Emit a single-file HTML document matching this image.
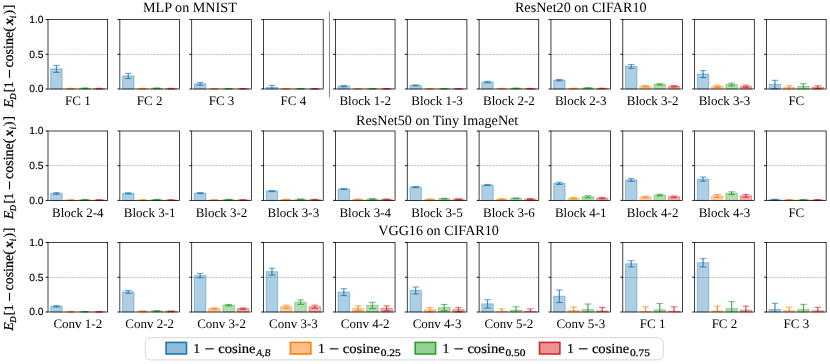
<!DOCTYPE html><html><head><meta charset="utf-8"><style>html,body{margin:0;padding:0;background:#fff;overflow:hidden}svg{display:block;will-change:transform;text-rendering:geometricPrecision}</style></head><body>
<svg width="830" height="364" viewBox="0 0 830 364">
<rect width="830" height="364" fill="#fff"/>
<line x1="48" y1="54.5" x2="107.65" y2="54.5" stroke="#c2c2c2" stroke-width="1" stroke-dasharray="2.3,1.05"/>
<rect x="50.71" y="68.87" width="11.42" height="20.13" fill="rgba(31,119,180,0.36)" stroke="rgba(31,119,180,0.4)" stroke-width="1"/>
<g stroke="rgba(31,119,180,0.8)"><line x1="56.42" y1="65.4" x2="56.42" y2="72.34" stroke-width="1.3"/><line x1="53.12" y1="65.4" x2="59.72" y2="65.4" stroke-width="1.1" stroke-opacity="0.8"/><line x1="53.12" y1="72.34" x2="59.72" y2="72.34" stroke-width="1.1"/></g>
<rect x="64.98" y="88.58" width="11.42" height="0.42" fill="rgba(255,127,14,0.36)" stroke="rgba(255,127,14,0.4)" stroke-width="1"/>
<g stroke="rgba(255,127,14,0.8)"><line x1="70.69" y1="88.31" x2="70.69" y2="88.86" stroke-width="1.3"/><line x1="67.39" y1="88.31" x2="73.99" y2="88.31" stroke-width="1.1" stroke-opacity="0.8"/><line x1="67.39" y1="88.86" x2="73.99" y2="88.86" stroke-width="1.1"/></g>
<rect x="79.25" y="88.31" width="11.42" height="0.69" fill="rgba(44,160,44,0.36)" stroke="rgba(44,160,44,0.4)" stroke-width="1"/>
<g stroke="rgba(44,160,44,0.8)"><line x1="84.96" y1="87.96" x2="84.96" y2="88.65" stroke-width="1.3"/><line x1="81.66" y1="87.96" x2="88.26" y2="87.96" stroke-width="1.1" stroke-opacity="0.8"/><line x1="81.66" y1="88.65" x2="88.26" y2="88.65" stroke-width="1.1"/></g>
<rect x="93.52" y="88.58" width="11.42" height="0.42" fill="rgba(214,39,40,0.36)" stroke="rgba(214,39,40,0.4)" stroke-width="1"/>
<g stroke="rgba(214,39,40,0.8)"><line x1="99.23" y1="88.31" x2="99.23" y2="88.86" stroke-width="1.3"/><line x1="95.93" y1="88.31" x2="102.53" y2="88.31" stroke-width="1.1" stroke-opacity="0.8"/><line x1="95.93" y1="88.86" x2="102.53" y2="88.86" stroke-width="1.1"/></g>
<rect x="48" y="19.6" width="59.65" height="69.4" fill="none" stroke="#000" stroke-width="0.75"/>
<line x1="45.6" y1="89" x2="48" y2="89" stroke="#000" stroke-width="0.9"/>
<line x1="45.6" y1="54.3" x2="48" y2="54.3" stroke="#000" stroke-width="0.9"/>
<line x1="45.6" y1="19.6" x2="48" y2="19.6" stroke="#000" stroke-width="0.9"/>
<text x="77.83" y="104.8" text-anchor="middle" font-family="Liberation Serif" font-size="13" textLength="25.65" lengthAdjust="spacingAndGlyphs">FC 1</text>
<line x1="119.85" y1="54.5" x2="179.5" y2="54.5" stroke="#c2c2c2" stroke-width="1" stroke-dasharray="2.3,1.05"/>
<rect x="122.56" y="75.95" width="11.42" height="13.05" fill="rgba(31,119,180,0.36)" stroke="rgba(31,119,180,0.4)" stroke-width="1"/>
<g stroke="rgba(31,119,180,0.8)"><line x1="128.27" y1="73.38" x2="128.27" y2="78.52" stroke-width="1.3"/><line x1="124.97" y1="73.38" x2="131.57" y2="73.38" stroke-width="1.1" stroke-opacity="0.8"/><line x1="124.97" y1="78.52" x2="131.57" y2="78.52" stroke-width="1.1"/></g>
<rect x="136.83" y="88.58" width="11.42" height="0.42" fill="rgba(255,127,14,0.36)" stroke="rgba(255,127,14,0.4)" stroke-width="1"/>
<g stroke="rgba(255,127,14,0.8)"><line x1="142.54" y1="88.31" x2="142.54" y2="88.86" stroke-width="1.3"/><line x1="139.24" y1="88.31" x2="145.84" y2="88.31" stroke-width="1.1" stroke-opacity="0.8"/><line x1="139.24" y1="88.86" x2="145.84" y2="88.86" stroke-width="1.1"/></g>
<rect x="151.1" y="88.31" width="11.42" height="0.69" fill="rgba(44,160,44,0.36)" stroke="rgba(44,160,44,0.4)" stroke-width="1"/>
<g stroke="rgba(44,160,44,0.8)"><line x1="156.81" y1="87.96" x2="156.81" y2="88.65" stroke-width="1.3"/><line x1="153.51" y1="87.96" x2="160.11" y2="87.96" stroke-width="1.1" stroke-opacity="0.8"/><line x1="153.51" y1="88.65" x2="160.11" y2="88.65" stroke-width="1.1"/></g>
<rect x="165.37" y="88.58" width="11.42" height="0.42" fill="rgba(214,39,40,0.36)" stroke="rgba(214,39,40,0.4)" stroke-width="1"/>
<g stroke="rgba(214,39,40,0.8)"><line x1="171.08" y1="88.31" x2="171.08" y2="88.86" stroke-width="1.3"/><line x1="167.78" y1="88.31" x2="174.38" y2="88.31" stroke-width="1.1" stroke-opacity="0.8"/><line x1="167.78" y1="88.86" x2="174.38" y2="88.86" stroke-width="1.1"/></g>
<rect x="119.85" y="19.6" width="59.65" height="69.4" fill="none" stroke="#000" stroke-width="0.75"/>
<line x1="117.45" y1="89" x2="119.85" y2="89" stroke="#000" stroke-width="0.9"/>
<line x1="117.45" y1="54.3" x2="119.85" y2="54.3" stroke="#000" stroke-width="0.9"/>
<line x1="117.45" y1="19.6" x2="119.85" y2="19.6" stroke="#000" stroke-width="0.9"/>
<text x="149.67" y="104.8" text-anchor="middle" font-family="Liberation Serif" font-size="13" textLength="25.65" lengthAdjust="spacingAndGlyphs">FC 2</text>
<line x1="191.7" y1="54.5" x2="251.35" y2="54.5" stroke="#c2c2c2" stroke-width="1" stroke-dasharray="2.3,1.05"/>
<rect x="194.41" y="83.8" width="11.42" height="5.21" fill="rgba(31,119,180,0.36)" stroke="rgba(31,119,180,0.4)" stroke-width="1"/>
<g stroke="rgba(31,119,180,0.8)"><line x1="200.12" y1="82.41" x2="200.12" y2="85.18" stroke-width="1.3"/><line x1="196.82" y1="82.41" x2="203.42" y2="82.41" stroke-width="1.1" stroke-opacity="0.8"/><line x1="196.82" y1="85.18" x2="203.42" y2="85.18" stroke-width="1.1"/></g>
<rect x="208.68" y="88.72" width="11.42" height="0.28" fill="rgba(255,127,14,0.36)" stroke="rgba(255,127,14,0.4)" stroke-width="1"/>
<g stroke="rgba(255,127,14,0.8)"><line x1="214.39" y1="88.58" x2="214.39" y2="88.86" stroke-width="1.3"/><line x1="211.09" y1="88.58" x2="217.69" y2="88.58" stroke-width="1.1" stroke-opacity="0.8"/><line x1="211.09" y1="88.86" x2="217.69" y2="88.86" stroke-width="1.1"/></g>
<rect x="222.95" y="88.65" width="11.42" height="0.35" fill="rgba(44,160,44,0.36)" stroke="rgba(44,160,44,0.4)" stroke-width="1"/>
<g stroke="rgba(44,160,44,0.8)"><line x1="228.66" y1="88.51" x2="228.66" y2="88.79" stroke-width="1.3"/><line x1="225.36" y1="88.51" x2="231.96" y2="88.51" stroke-width="1.1" stroke-opacity="0.8"/><line x1="225.36" y1="88.79" x2="231.96" y2="88.79" stroke-width="1.1"/></g>
<rect x="237.22" y="88.72" width="11.42" height="0.28" fill="rgba(214,39,40,0.36)" stroke="rgba(214,39,40,0.4)" stroke-width="1"/>
<g stroke="rgba(214,39,40,0.8)"><line x1="242.93" y1="88.58" x2="242.93" y2="88.86" stroke-width="1.3"/><line x1="239.63" y1="88.58" x2="246.23" y2="88.58" stroke-width="1.1" stroke-opacity="0.8"/><line x1="239.63" y1="88.86" x2="246.23" y2="88.86" stroke-width="1.1"/></g>
<rect x="191.7" y="19.6" width="59.65" height="69.4" fill="none" stroke="#000" stroke-width="0.75"/>
<line x1="189.3" y1="89" x2="191.7" y2="89" stroke="#000" stroke-width="0.9"/>
<line x1="189.3" y1="54.3" x2="191.7" y2="54.3" stroke="#000" stroke-width="0.9"/>
<line x1="189.3" y1="19.6" x2="191.7" y2="19.6" stroke="#000" stroke-width="0.9"/>
<text x="221.52" y="104.8" text-anchor="middle" font-family="Liberation Serif" font-size="13" textLength="25.65" lengthAdjust="spacingAndGlyphs">FC 3</text>
<line x1="263.55" y1="54.5" x2="323.2" y2="54.5" stroke="#c2c2c2" stroke-width="1" stroke-dasharray="2.3,1.05"/>
<rect x="266.26" y="87.47" width="11.42" height="1.53" fill="rgba(31,119,180,0.36)" stroke="rgba(31,119,180,0.4)" stroke-width="1"/>
<g stroke="rgba(31,119,180,0.8)"><line x1="271.97" y1="85.39" x2="271.97" y2="89" stroke-width="1.3"/><line x1="268.67" y1="85.39" x2="275.27" y2="85.39" stroke-width="1.1" stroke-opacity="0.8"/></g>
<rect x="280.53" y="88.72" width="11.42" height="0.28" fill="rgba(255,127,14,0.36)" stroke="rgba(255,127,14,0.4)" stroke-width="1"/>
<g stroke="rgba(255,127,14,0.8)"><line x1="286.24" y1="88.58" x2="286.24" y2="88.86" stroke-width="1.3"/><line x1="282.94" y1="88.58" x2="289.54" y2="88.58" stroke-width="1.1" stroke-opacity="0.8"/><line x1="282.94" y1="88.86" x2="289.54" y2="88.86" stroke-width="1.1"/></g>
<rect x="294.8" y="88.65" width="11.42" height="0.35" fill="rgba(44,160,44,0.36)" stroke="rgba(44,160,44,0.4)" stroke-width="1"/>
<g stroke="rgba(44,160,44,0.8)"><line x1="300.51" y1="88.51" x2="300.51" y2="88.79" stroke-width="1.3"/><line x1="297.21" y1="88.51" x2="303.81" y2="88.51" stroke-width="1.1" stroke-opacity="0.8"/><line x1="297.21" y1="88.79" x2="303.81" y2="88.79" stroke-width="1.1"/></g>
<rect x="309.07" y="88.72" width="11.42" height="0.28" fill="rgba(214,39,40,0.36)" stroke="rgba(214,39,40,0.4)" stroke-width="1"/>
<g stroke="rgba(214,39,40,0.8)"><line x1="314.78" y1="88.58" x2="314.78" y2="88.86" stroke-width="1.3"/><line x1="311.48" y1="88.58" x2="318.08" y2="88.58" stroke-width="1.1" stroke-opacity="0.8"/><line x1="311.48" y1="88.86" x2="318.08" y2="88.86" stroke-width="1.1"/></g>
<rect x="263.55" y="19.6" width="59.65" height="69.4" fill="none" stroke="#000" stroke-width="0.75"/>
<line x1="261.15" y1="89" x2="263.55" y2="89" stroke="#000" stroke-width="0.9"/>
<line x1="261.15" y1="54.3" x2="263.55" y2="54.3" stroke="#000" stroke-width="0.9"/>
<line x1="261.15" y1="19.6" x2="263.55" y2="19.6" stroke="#000" stroke-width="0.9"/>
<text x="293.37" y="104.8" text-anchor="middle" font-family="Liberation Serif" font-size="13" textLength="25.65" lengthAdjust="spacingAndGlyphs">FC 4</text>
<line x1="335.4" y1="54.5" x2="395.05" y2="54.5" stroke="#c2c2c2" stroke-width="1" stroke-dasharray="2.3,1.05"/>
<rect x="338.11" y="86.09" width="11.42" height="2.91" fill="rgba(31,119,180,0.36)" stroke="rgba(31,119,180,0.4)" stroke-width="1"/>
<g stroke="rgba(31,119,180,0.8)"><line x1="343.82" y1="85.39" x2="343.82" y2="86.78" stroke-width="1.3"/><line x1="340.52" y1="85.39" x2="347.12" y2="85.39" stroke-width="1.1" stroke-opacity="0.8"/><line x1="340.52" y1="86.78" x2="347.12" y2="86.78" stroke-width="1.1"/></g>
<rect x="352.38" y="88.72" width="11.42" height="0.28" fill="rgba(255,127,14,0.36)" stroke="rgba(255,127,14,0.4)" stroke-width="1"/>
<g stroke="rgba(255,127,14,0.8)"><line x1="358.09" y1="88.58" x2="358.09" y2="88.86" stroke-width="1.3"/><line x1="354.79" y1="88.58" x2="361.39" y2="88.58" stroke-width="1.1" stroke-opacity="0.8"/><line x1="354.79" y1="88.86" x2="361.39" y2="88.86" stroke-width="1.1"/></g>
<rect x="366.65" y="88.65" width="11.42" height="0.35" fill="rgba(44,160,44,0.36)" stroke="rgba(44,160,44,0.4)" stroke-width="1"/>
<g stroke="rgba(44,160,44,0.8)"><line x1="372.36" y1="88.51" x2="372.36" y2="88.79" stroke-width="1.3"/><line x1="369.06" y1="88.51" x2="375.66" y2="88.51" stroke-width="1.1" stroke-opacity="0.8"/><line x1="369.06" y1="88.79" x2="375.66" y2="88.79" stroke-width="1.1"/></g>
<rect x="380.92" y="88.72" width="11.42" height="0.28" fill="rgba(214,39,40,0.36)" stroke="rgba(214,39,40,0.4)" stroke-width="1"/>
<g stroke="rgba(214,39,40,0.8)"><line x1="386.63" y1="88.58" x2="386.63" y2="88.86" stroke-width="1.3"/><line x1="383.33" y1="88.58" x2="389.93" y2="88.58" stroke-width="1.1" stroke-opacity="0.8"/><line x1="383.33" y1="88.86" x2="389.93" y2="88.86" stroke-width="1.1"/></g>
<rect x="335.4" y="19.6" width="59.65" height="69.4" fill="none" stroke="#000" stroke-width="0.75"/>
<line x1="333" y1="89" x2="335.4" y2="89" stroke="#000" stroke-width="0.9"/>
<line x1="333" y1="54.3" x2="335.4" y2="54.3" stroke="#000" stroke-width="0.9"/>
<line x1="333" y1="19.6" x2="335.4" y2="19.6" stroke="#000" stroke-width="0.9"/>
<text x="365.22" y="104.8" text-anchor="middle" font-family="Liberation Serif" font-size="13" textLength="51.63" lengthAdjust="spacingAndGlyphs">Block 1-2</text>
<line x1="407.25" y1="54.5" x2="466.9" y2="54.5" stroke="#c2c2c2" stroke-width="1" stroke-dasharray="2.3,1.05"/>
<rect x="409.96" y="85.39" width="11.42" height="3.61" fill="rgba(31,119,180,0.36)" stroke="rgba(31,119,180,0.4)" stroke-width="1"/>
<g stroke="rgba(31,119,180,0.8)"><line x1="415.67" y1="84.97" x2="415.67" y2="85.81" stroke-width="1.3"/><line x1="412.37" y1="84.97" x2="418.97" y2="84.97" stroke-width="1.1" stroke-opacity="0.8"/><line x1="412.37" y1="85.81" x2="418.97" y2="85.81" stroke-width="1.1"/></g>
<rect x="424.23" y="88.72" width="11.42" height="0.28" fill="rgba(255,127,14,0.36)" stroke="rgba(255,127,14,0.4)" stroke-width="1"/>
<g stroke="rgba(255,127,14,0.8)"><line x1="429.94" y1="88.58" x2="429.94" y2="88.86" stroke-width="1.3"/><line x1="426.64" y1="88.58" x2="433.24" y2="88.58" stroke-width="1.1" stroke-opacity="0.8"/><line x1="426.64" y1="88.86" x2="433.24" y2="88.86" stroke-width="1.1"/></g>
<rect x="438.5" y="88.65" width="11.42" height="0.35" fill="rgba(44,160,44,0.36)" stroke="rgba(44,160,44,0.4)" stroke-width="1"/>
<g stroke="rgba(44,160,44,0.8)"><line x1="444.21" y1="88.51" x2="444.21" y2="88.79" stroke-width="1.3"/><line x1="440.91" y1="88.51" x2="447.51" y2="88.51" stroke-width="1.1" stroke-opacity="0.8"/><line x1="440.91" y1="88.79" x2="447.51" y2="88.79" stroke-width="1.1"/></g>
<rect x="452.77" y="88.72" width="11.42" height="0.28" fill="rgba(214,39,40,0.36)" stroke="rgba(214,39,40,0.4)" stroke-width="1"/>
<g stroke="rgba(214,39,40,0.8)"><line x1="458.48" y1="88.58" x2="458.48" y2="88.86" stroke-width="1.3"/><line x1="455.18" y1="88.58" x2="461.78" y2="88.58" stroke-width="1.1" stroke-opacity="0.8"/><line x1="455.18" y1="88.86" x2="461.78" y2="88.86" stroke-width="1.1"/></g>
<rect x="407.25" y="19.6" width="59.65" height="69.4" fill="none" stroke="#000" stroke-width="0.75"/>
<line x1="404.85" y1="89" x2="407.25" y2="89" stroke="#000" stroke-width="0.9"/>
<line x1="404.85" y1="54.3" x2="407.25" y2="54.3" stroke="#000" stroke-width="0.9"/>
<line x1="404.85" y1="19.6" x2="407.25" y2="19.6" stroke="#000" stroke-width="0.9"/>
<text x="437.07" y="104.8" text-anchor="middle" font-family="Liberation Serif" font-size="13" textLength="51.63" lengthAdjust="spacingAndGlyphs">Block 1-3</text>
<line x1="479.1" y1="54.5" x2="538.75" y2="54.5" stroke="#c2c2c2" stroke-width="1" stroke-dasharray="2.3,1.05"/>
<rect x="481.81" y="82.06" width="11.42" height="6.94" fill="rgba(31,119,180,0.36)" stroke="rgba(31,119,180,0.4)" stroke-width="1"/>
<g stroke="rgba(31,119,180,0.8)"><line x1="487.52" y1="81.37" x2="487.52" y2="82.75" stroke-width="1.3"/><line x1="484.22" y1="81.37" x2="490.82" y2="81.37" stroke-width="1.1" stroke-opacity="0.8"/><line x1="484.22" y1="82.75" x2="490.82" y2="82.75" stroke-width="1.1"/></g>
<rect x="496.08" y="88.58" width="11.42" height="0.42" fill="rgba(255,127,14,0.36)" stroke="rgba(255,127,14,0.4)" stroke-width="1"/>
<g stroke="rgba(255,127,14,0.8)"><line x1="501.79" y1="88.38" x2="501.79" y2="88.79" stroke-width="1.3"/><line x1="498.49" y1="88.38" x2="505.09" y2="88.38" stroke-width="1.1" stroke-opacity="0.8"/><line x1="498.49" y1="88.79" x2="505.09" y2="88.79" stroke-width="1.1"/></g>
<rect x="510.35" y="88.31" width="11.42" height="0.69" fill="rgba(44,160,44,0.36)" stroke="rgba(44,160,44,0.4)" stroke-width="1"/>
<g stroke="rgba(44,160,44,0.8)"><line x1="516.06" y1="88.03" x2="516.06" y2="88.58" stroke-width="1.3"/><line x1="512.76" y1="88.03" x2="519.36" y2="88.03" stroke-width="1.1" stroke-opacity="0.8"/><line x1="512.76" y1="88.58" x2="519.36" y2="88.58" stroke-width="1.1"/></g>
<rect x="524.62" y="88.58" width="11.42" height="0.42" fill="rgba(214,39,40,0.36)" stroke="rgba(214,39,40,0.4)" stroke-width="1"/>
<g stroke="rgba(214,39,40,0.8)"><line x1="530.33" y1="88.38" x2="530.33" y2="88.79" stroke-width="1.3"/><line x1="527.03" y1="88.38" x2="533.63" y2="88.38" stroke-width="1.1" stroke-opacity="0.8"/><line x1="527.03" y1="88.79" x2="533.63" y2="88.79" stroke-width="1.1"/></g>
<rect x="479.1" y="19.6" width="59.65" height="69.4" fill="none" stroke="#000" stroke-width="0.75"/>
<line x1="476.7" y1="89" x2="479.1" y2="89" stroke="#000" stroke-width="0.9"/>
<line x1="476.7" y1="54.3" x2="479.1" y2="54.3" stroke="#000" stroke-width="0.9"/>
<line x1="476.7" y1="19.6" x2="479.1" y2="19.6" stroke="#000" stroke-width="0.9"/>
<text x="508.92" y="104.8" text-anchor="middle" font-family="Liberation Serif" font-size="13" textLength="51.63" lengthAdjust="spacingAndGlyphs">Block 2-2</text>
<line x1="550.95" y1="54.5" x2="610.6" y2="54.5" stroke="#c2c2c2" stroke-width="1" stroke-dasharray="2.3,1.05"/>
<rect x="553.66" y="80.19" width="11.42" height="8.81" fill="rgba(31,119,180,0.36)" stroke="rgba(31,119,180,0.4)" stroke-width="1"/>
<g stroke="rgba(31,119,180,0.8)"><line x1="559.37" y1="79.49" x2="559.37" y2="80.88" stroke-width="1.3"/><line x1="556.07" y1="79.49" x2="562.67" y2="79.49" stroke-width="1.1" stroke-opacity="0.8"/><line x1="556.07" y1="80.88" x2="562.67" y2="80.88" stroke-width="1.1"/></g>
<rect x="567.93" y="88.44" width="11.42" height="0.56" fill="rgba(255,127,14,0.36)" stroke="rgba(255,127,14,0.4)" stroke-width="1"/>
<g stroke="rgba(255,127,14,0.8)"><line x1="573.64" y1="88.24" x2="573.64" y2="88.65" stroke-width="1.3"/><line x1="570.34" y1="88.24" x2="576.94" y2="88.24" stroke-width="1.1" stroke-opacity="0.8"/><line x1="570.34" y1="88.65" x2="576.94" y2="88.65" stroke-width="1.1"/></g>
<rect x="582.2" y="88.03" width="11.42" height="0.97" fill="rgba(44,160,44,0.36)" stroke="rgba(44,160,44,0.4)" stroke-width="1"/>
<g stroke="rgba(44,160,44,0.8)"><line x1="587.91" y1="87.75" x2="587.91" y2="88.31" stroke-width="1.3"/><line x1="584.61" y1="87.75" x2="591.21" y2="87.75" stroke-width="1.1" stroke-opacity="0.8"/><line x1="584.61" y1="88.31" x2="591.21" y2="88.31" stroke-width="1.1"/></g>
<rect x="596.47" y="88.44" width="11.42" height="0.56" fill="rgba(214,39,40,0.36)" stroke="rgba(214,39,40,0.4)" stroke-width="1"/>
<g stroke="rgba(214,39,40,0.8)"><line x1="602.18" y1="88.24" x2="602.18" y2="88.65" stroke-width="1.3"/><line x1="598.88" y1="88.24" x2="605.48" y2="88.24" stroke-width="1.1" stroke-opacity="0.8"/><line x1="598.88" y1="88.65" x2="605.48" y2="88.65" stroke-width="1.1"/></g>
<rect x="550.95" y="19.6" width="59.65" height="69.4" fill="none" stroke="#000" stroke-width="0.75"/>
<line x1="548.55" y1="89" x2="550.95" y2="89" stroke="#000" stroke-width="0.9"/>
<line x1="548.55" y1="54.3" x2="550.95" y2="54.3" stroke="#000" stroke-width="0.9"/>
<line x1="548.55" y1="19.6" x2="550.95" y2="19.6" stroke="#000" stroke-width="0.9"/>
<text x="580.77" y="104.8" text-anchor="middle" font-family="Liberation Serif" font-size="13" textLength="51.63" lengthAdjust="spacingAndGlyphs">Block 2-3</text>
<line x1="622.8" y1="54.5" x2="682.45" y2="54.5" stroke="#c2c2c2" stroke-width="1" stroke-dasharray="2.3,1.05"/>
<rect x="625.51" y="66.44" width="11.42" height="22.56" fill="rgba(31,119,180,0.36)" stroke="rgba(31,119,180,0.4)" stroke-width="1"/>
<g stroke="rgba(31,119,180,0.8)"><line x1="631.22" y1="64.5" x2="631.22" y2="68.39" stroke-width="1.3"/><line x1="627.92" y1="64.5" x2="634.52" y2="64.5" stroke-width="1.1" stroke-opacity="0.8"/><line x1="627.92" y1="68.39" x2="634.52" y2="68.39" stroke-width="1.1"/></g>
<rect x="639.78" y="86.29" width="11.42" height="2.71" fill="rgba(255,127,14,0.36)" stroke="rgba(255,127,14,0.4)" stroke-width="1"/>
<g stroke="rgba(255,127,14,0.8)"><line x1="645.49" y1="85.6" x2="645.49" y2="86.99" stroke-width="1.3"/><line x1="642.19" y1="85.6" x2="648.79" y2="85.6" stroke-width="1.1" stroke-opacity="0.8"/><line x1="642.19" y1="86.99" x2="648.79" y2="86.99" stroke-width="1.1"/></g>
<rect x="654.05" y="84.42" width="11.42" height="4.58" fill="rgba(44,160,44,0.36)" stroke="rgba(44,160,44,0.4)" stroke-width="1"/>
<g stroke="rgba(44,160,44,0.8)"><line x1="659.76" y1="83.73" x2="659.76" y2="85.11" stroke-width="1.3"/><line x1="656.46" y1="83.73" x2="663.06" y2="83.73" stroke-width="1.1" stroke-opacity="0.8"/><line x1="656.46" y1="85.11" x2="663.06" y2="85.11" stroke-width="1.1"/></g>
<rect x="668.32" y="86.29" width="11.42" height="2.71" fill="rgba(214,39,40,0.36)" stroke="rgba(214,39,40,0.4)" stroke-width="1"/>
<g stroke="rgba(214,39,40,0.8)"><line x1="674.03" y1="85.6" x2="674.03" y2="86.99" stroke-width="1.3"/><line x1="670.73" y1="85.6" x2="677.33" y2="85.6" stroke-width="1.1" stroke-opacity="0.8"/><line x1="670.73" y1="86.99" x2="677.33" y2="86.99" stroke-width="1.1"/></g>
<rect x="622.8" y="19.6" width="59.65" height="69.4" fill="none" stroke="#000" stroke-width="0.75"/>
<line x1="620.4" y1="89" x2="622.8" y2="89" stroke="#000" stroke-width="0.9"/>
<line x1="620.4" y1="54.3" x2="622.8" y2="54.3" stroke="#000" stroke-width="0.9"/>
<line x1="620.4" y1="19.6" x2="622.8" y2="19.6" stroke="#000" stroke-width="0.9"/>
<text x="652.62" y="104.8" text-anchor="middle" font-family="Liberation Serif" font-size="13" textLength="51.63" lengthAdjust="spacingAndGlyphs">Block 3-2</text>
<line x1="694.65" y1="54.5" x2="754.3" y2="54.5" stroke="#c2c2c2" stroke-width="1" stroke-dasharray="2.3,1.05"/>
<rect x="697.36" y="74.08" width="11.42" height="14.92" fill="rgba(31,119,180,0.36)" stroke="rgba(31,119,180,0.4)" stroke-width="1"/>
<g stroke="rgba(31,119,180,0.8)"><line x1="703.07" y1="70.61" x2="703.07" y2="77.55" stroke-width="1.3"/><line x1="699.77" y1="70.61" x2="706.37" y2="70.61" stroke-width="1.1" stroke-opacity="0.8"/><line x1="699.77" y1="77.55" x2="706.37" y2="77.55" stroke-width="1.1"/></g>
<rect x="711.63" y="86.29" width="11.42" height="2.71" fill="rgba(255,127,14,0.36)" stroke="rgba(255,127,14,0.4)" stroke-width="1"/>
<g stroke="rgba(255,127,14,0.8)"><line x1="717.34" y1="85.18" x2="717.34" y2="87.4" stroke-width="1.3"/><line x1="714.04" y1="85.18" x2="720.64" y2="85.18" stroke-width="1.1" stroke-opacity="0.8"/><line x1="714.04" y1="87.4" x2="720.64" y2="87.4" stroke-width="1.1"/></g>
<rect x="725.9" y="84.49" width="11.42" height="4.51" fill="rgba(44,160,44,0.36)" stroke="rgba(44,160,44,0.4)" stroke-width="1"/>
<g stroke="rgba(44,160,44,0.8)"><line x1="731.61" y1="83.1" x2="731.61" y2="85.88" stroke-width="1.3"/><line x1="728.31" y1="83.1" x2="734.91" y2="83.1" stroke-width="1.1" stroke-opacity="0.8"/><line x1="728.31" y1="85.88" x2="734.91" y2="85.88" stroke-width="1.1"/></g>
<rect x="740.17" y="86.29" width="11.42" height="2.71" fill="rgba(214,39,40,0.36)" stroke="rgba(214,39,40,0.4)" stroke-width="1"/>
<g stroke="rgba(214,39,40,0.8)"><line x1="745.88" y1="85.18" x2="745.88" y2="87.4" stroke-width="1.3"/><line x1="742.58" y1="85.18" x2="749.18" y2="85.18" stroke-width="1.1" stroke-opacity="0.8"/><line x1="742.58" y1="87.4" x2="749.18" y2="87.4" stroke-width="1.1"/></g>
<rect x="694.65" y="19.6" width="59.65" height="69.4" fill="none" stroke="#000" stroke-width="0.75"/>
<line x1="692.25" y1="89" x2="694.65" y2="89" stroke="#000" stroke-width="0.9"/>
<line x1="692.25" y1="54.3" x2="694.65" y2="54.3" stroke="#000" stroke-width="0.9"/>
<line x1="692.25" y1="19.6" x2="694.65" y2="19.6" stroke="#000" stroke-width="0.9"/>
<text x="724.48" y="104.8" text-anchor="middle" font-family="Liberation Serif" font-size="13" textLength="51.63" lengthAdjust="spacingAndGlyphs">Block 3-3</text>
<line x1="766.5" y1="54.5" x2="826.15" y2="54.5" stroke="#c2c2c2" stroke-width="1" stroke-dasharray="2.3,1.05"/>
<rect x="769.21" y="84.49" width="11.42" height="4.51" fill="rgba(31,119,180,0.36)" stroke="rgba(31,119,180,0.4)" stroke-width="1"/>
<g stroke="rgba(31,119,180,0.8)"><line x1="774.92" y1="80.33" x2="774.92" y2="88.65" stroke-width="1.3"/><line x1="771.62" y1="80.33" x2="778.22" y2="80.33" stroke-width="1.1" stroke-opacity="0.8"/><line x1="771.62" y1="88.65" x2="778.22" y2="88.65" stroke-width="1.1"/></g>
<rect x="783.48" y="87.47" width="11.42" height="1.53" fill="rgba(255,127,14,0.36)" stroke="rgba(255,127,14,0.4)" stroke-width="1"/>
<g stroke="rgba(255,127,14,0.8)"><line x1="789.19" y1="85.74" x2="789.19" y2="89" stroke-width="1.3"/><line x1="785.89" y1="85.74" x2="792.49" y2="85.74" stroke-width="1.1" stroke-opacity="0.8"/></g>
<rect x="797.75" y="86.43" width="11.42" height="2.57" fill="rgba(44,160,44,0.36)" stroke="rgba(44,160,44,0.4)" stroke-width="1"/>
<g stroke="rgba(44,160,44,0.8)"><line x1="803.46" y1="83.66" x2="803.46" y2="89" stroke-width="1.3"/><line x1="800.16" y1="83.66" x2="806.76" y2="83.66" stroke-width="1.1" stroke-opacity="0.8"/></g>
<rect x="812.02" y="87.2" width="11.42" height="1.8" fill="rgba(214,39,40,0.36)" stroke="rgba(214,39,40,0.4)" stroke-width="1"/>
<g stroke="rgba(214,39,40,0.8)"><line x1="817.73" y1="85.81" x2="817.73" y2="88.58" stroke-width="1.3"/><line x1="814.43" y1="85.81" x2="821.03" y2="85.81" stroke-width="1.1" stroke-opacity="0.8"/><line x1="814.43" y1="88.58" x2="821.03" y2="88.58" stroke-width="1.1"/></g>
<rect x="766.5" y="19.6" width="59.65" height="69.4" fill="none" stroke="#000" stroke-width="0.75"/>
<line x1="764.1" y1="89" x2="766.5" y2="89" stroke="#000" stroke-width="0.9"/>
<line x1="764.1" y1="54.3" x2="766.5" y2="54.3" stroke="#000" stroke-width="0.9"/>
<line x1="764.1" y1="19.6" x2="766.5" y2="19.6" stroke="#000" stroke-width="0.9"/>
<text x="796.33" y="104.8" text-anchor="middle" font-family="Liberation Serif" font-size="13" textLength="15.9" lengthAdjust="spacingAndGlyphs">FC</text>
<text x="43.6" y="92.3" text-anchor="end" font-family="Liberation Sans" font-size="10.3" stroke="#000" stroke-width="0.15">0.0</text>
<text x="43.6" y="57.6" text-anchor="end" font-family="Liberation Sans" font-size="10.3" stroke="#000" stroke-width="0.15">0.5</text>
<text x="43.6" y="22.9" text-anchor="end" font-family="Liberation Sans" font-size="10.3" stroke="#000" stroke-width="0.15">1.0</text>
<text transform="translate(12.9,107.2) rotate(-90)" font-family="Liberation Serif" font-size="13" stroke="#000" stroke-width="0.25"><tspan x="-0.3" y="0" font-style="italic" font-size="13.5">E</tspan><tspan x="7.4" y="3" font-style="italic" font-size="8.8">D</tspan><tspan x="15" y="0">[</tspan><tspan x="19.2" y="0">1</tspan><tspan x="39.6" y="0" font-size="14">cosine(</tspan><tspan x="82.2" y="0" font-weight="bold" font-style="italic" font-size="13.5">x</tspan><tspan x="89" y="2.6" font-style="italic" font-size="9.5">i</tspan><tspan x="92.6" y="0" font-size="13.5">)</tspan><tspan x="98" y="0" font-size="13.5">]</tspan></text>
<rect x="8.95" y="70" width="1.1" height="7.8" fill="#000"/>
<line x1="48" y1="165.5" x2="107.65" y2="165.5" stroke="#c2c2c2" stroke-width="1" stroke-dasharray="2.3,1.05"/>
<rect x="50.71" y="193.46" width="11.42" height="6.94" fill="rgba(31,119,180,0.36)" stroke="rgba(31,119,180,0.4)" stroke-width="1"/>
<g stroke="rgba(31,119,180,0.8)"><line x1="56.42" y1="192.56" x2="56.42" y2="194.36" stroke-width="1.3"/><line x1="53.12" y1="192.56" x2="59.72" y2="192.56" stroke-width="1.1" stroke-opacity="0.8"/><line x1="53.12" y1="194.36" x2="59.72" y2="194.36" stroke-width="1.1"/></g>
<rect x="64.98" y="200.05" width="11.42" height="0.35" fill="rgba(255,127,14,0.36)" stroke="rgba(255,127,14,0.4)" stroke-width="1"/>
<g stroke="rgba(255,127,14,0.8)"><line x1="70.69" y1="199.91" x2="70.69" y2="200.19" stroke-width="1.3"/><line x1="67.39" y1="199.91" x2="73.99" y2="199.91" stroke-width="1.1" stroke-opacity="0.8"/><line x1="67.39" y1="200.19" x2="73.99" y2="200.19" stroke-width="1.1"/></g>
<rect x="79.25" y="199.71" width="11.42" height="0.69" fill="rgba(44,160,44,0.36)" stroke="rgba(44,160,44,0.4)" stroke-width="1"/>
<g stroke="rgba(44,160,44,0.8)"><line x1="84.96" y1="199.5" x2="84.96" y2="199.91" stroke-width="1.3"/><line x1="81.66" y1="199.5" x2="88.26" y2="199.5" stroke-width="1.1" stroke-opacity="0.8"/><line x1="81.66" y1="199.91" x2="88.26" y2="199.91" stroke-width="1.1"/></g>
<rect x="93.52" y="199.98" width="11.42" height="0.42" fill="rgba(214,39,40,0.36)" stroke="rgba(214,39,40,0.4)" stroke-width="1"/>
<g stroke="rgba(214,39,40,0.8)"><line x1="99.23" y1="199.84" x2="99.23" y2="200.12" stroke-width="1.3"/><line x1="95.93" y1="199.84" x2="102.53" y2="199.84" stroke-width="1.1" stroke-opacity="0.8"/><line x1="95.93" y1="200.12" x2="102.53" y2="200.12" stroke-width="1.1"/></g>
<rect x="48" y="131" width="59.65" height="69.4" fill="none" stroke="#000" stroke-width="0.75"/>
<line x1="45.6" y1="200.4" x2="48" y2="200.4" stroke="#000" stroke-width="0.9"/>
<line x1="45.6" y1="165.7" x2="48" y2="165.7" stroke="#000" stroke-width="0.9"/>
<line x1="45.6" y1="131" x2="48" y2="131" stroke="#000" stroke-width="0.9"/>
<text x="77.83" y="216.5" text-anchor="middle" font-family="Liberation Serif" font-size="13" textLength="51.63" lengthAdjust="spacingAndGlyphs">Block 2-4</text>
<line x1="119.85" y1="165.5" x2="179.5" y2="165.5" stroke="#c2c2c2" stroke-width="1" stroke-dasharray="2.3,1.05"/>
<rect x="122.56" y="193.39" width="11.42" height="7.01" fill="rgba(31,119,180,0.36)" stroke="rgba(31,119,180,0.4)" stroke-width="1"/>
<g stroke="rgba(31,119,180,0.8)"><line x1="128.27" y1="192.7" x2="128.27" y2="194.08" stroke-width="1.3"/><line x1="124.97" y1="192.7" x2="131.57" y2="192.7" stroke-width="1.1" stroke-opacity="0.8"/><line x1="124.97" y1="194.08" x2="131.57" y2="194.08" stroke-width="1.1"/></g>
<rect x="136.83" y="200.05" width="11.42" height="0.35" fill="rgba(255,127,14,0.36)" stroke="rgba(255,127,14,0.4)" stroke-width="1"/>
<g stroke="rgba(255,127,14,0.8)"><line x1="142.54" y1="199.91" x2="142.54" y2="200.19" stroke-width="1.3"/><line x1="139.24" y1="199.91" x2="145.84" y2="199.91" stroke-width="1.1" stroke-opacity="0.8"/><line x1="139.24" y1="200.19" x2="145.84" y2="200.19" stroke-width="1.1"/></g>
<rect x="151.1" y="199.57" width="11.42" height="0.83" fill="rgba(44,160,44,0.36)" stroke="rgba(44,160,44,0.4)" stroke-width="1"/>
<g stroke="rgba(44,160,44,0.8)"><line x1="156.81" y1="199.36" x2="156.81" y2="199.78" stroke-width="1.3"/><line x1="153.51" y1="199.36" x2="160.11" y2="199.36" stroke-width="1.1" stroke-opacity="0.8"/><line x1="153.51" y1="199.78" x2="160.11" y2="199.78" stroke-width="1.1"/></g>
<rect x="165.37" y="199.98" width="11.42" height="0.42" fill="rgba(214,39,40,0.36)" stroke="rgba(214,39,40,0.4)" stroke-width="1"/>
<g stroke="rgba(214,39,40,0.8)"><line x1="171.08" y1="199.84" x2="171.08" y2="200.12" stroke-width="1.3"/><line x1="167.78" y1="199.84" x2="174.38" y2="199.84" stroke-width="1.1" stroke-opacity="0.8"/><line x1="167.78" y1="200.12" x2="174.38" y2="200.12" stroke-width="1.1"/></g>
<rect x="119.85" y="131" width="59.65" height="69.4" fill="none" stroke="#000" stroke-width="0.75"/>
<line x1="117.45" y1="200.4" x2="119.85" y2="200.4" stroke="#000" stroke-width="0.9"/>
<line x1="117.45" y1="165.7" x2="119.85" y2="165.7" stroke="#000" stroke-width="0.9"/>
<line x1="117.45" y1="131" x2="119.85" y2="131" stroke="#000" stroke-width="0.9"/>
<text x="149.67" y="216.5" text-anchor="middle" font-family="Liberation Serif" font-size="13" textLength="51.63" lengthAdjust="spacingAndGlyphs">Block 3-1</text>
<line x1="191.7" y1="165.5" x2="251.35" y2="165.5" stroke="#c2c2c2" stroke-width="1" stroke-dasharray="2.3,1.05"/>
<rect x="194.41" y="193.11" width="11.42" height="7.29" fill="rgba(31,119,180,0.36)" stroke="rgba(31,119,180,0.4)" stroke-width="1"/>
<g stroke="rgba(31,119,180,0.8)"><line x1="200.12" y1="192.56" x2="200.12" y2="193.67" stroke-width="1.3"/><line x1="196.82" y1="192.56" x2="203.42" y2="192.56" stroke-width="1.1" stroke-opacity="0.8"/><line x1="196.82" y1="193.67" x2="203.42" y2="193.67" stroke-width="1.1"/></g>
<rect x="208.68" y="199.98" width="11.42" height="0.42" fill="rgba(255,127,14,0.36)" stroke="rgba(255,127,14,0.4)" stroke-width="1"/>
<g stroke="rgba(255,127,14,0.8)"><line x1="214.39" y1="199.84" x2="214.39" y2="200.12" stroke-width="1.3"/><line x1="211.09" y1="199.84" x2="217.69" y2="199.84" stroke-width="1.1" stroke-opacity="0.8"/><line x1="211.09" y1="200.12" x2="217.69" y2="200.12" stroke-width="1.1"/></g>
<rect x="222.95" y="199.5" width="11.42" height="0.9" fill="rgba(44,160,44,0.36)" stroke="rgba(44,160,44,0.4)" stroke-width="1"/>
<g stroke="rgba(44,160,44,0.8)"><line x1="228.66" y1="199.29" x2="228.66" y2="199.71" stroke-width="1.3"/><line x1="225.36" y1="199.29" x2="231.96" y2="199.29" stroke-width="1.1" stroke-opacity="0.8"/><line x1="225.36" y1="199.71" x2="231.96" y2="199.71" stroke-width="1.1"/></g>
<rect x="237.22" y="199.91" width="11.42" height="0.49" fill="rgba(214,39,40,0.36)" stroke="rgba(214,39,40,0.4)" stroke-width="1"/>
<g stroke="rgba(214,39,40,0.8)"><line x1="242.93" y1="199.78" x2="242.93" y2="200.05" stroke-width="1.3"/><line x1="239.63" y1="199.78" x2="246.23" y2="199.78" stroke-width="1.1" stroke-opacity="0.8"/><line x1="239.63" y1="200.05" x2="246.23" y2="200.05" stroke-width="1.1"/></g>
<rect x="191.7" y="131" width="59.65" height="69.4" fill="none" stroke="#000" stroke-width="0.75"/>
<line x1="189.3" y1="200.4" x2="191.7" y2="200.4" stroke="#000" stroke-width="0.9"/>
<line x1="189.3" y1="165.7" x2="191.7" y2="165.7" stroke="#000" stroke-width="0.9"/>
<line x1="189.3" y1="131" x2="191.7" y2="131" stroke="#000" stroke-width="0.9"/>
<text x="221.52" y="216.5" text-anchor="middle" font-family="Liberation Serif" font-size="13" textLength="51.63" lengthAdjust="spacingAndGlyphs">Block 3-2</text>
<line x1="263.55" y1="165.5" x2="323.2" y2="165.5" stroke="#c2c2c2" stroke-width="1" stroke-dasharray="2.3,1.05"/>
<rect x="266.26" y="191.03" width="11.42" height="9.37" fill="rgba(31,119,180,0.36)" stroke="rgba(31,119,180,0.4)" stroke-width="1"/>
<g stroke="rgba(31,119,180,0.8)"><line x1="271.97" y1="190.48" x2="271.97" y2="191.59" stroke-width="1.3"/><line x1="268.67" y1="190.48" x2="275.27" y2="190.48" stroke-width="1.1" stroke-opacity="0.8"/><line x1="268.67" y1="191.59" x2="275.27" y2="191.59" stroke-width="1.1"/></g>
<rect x="280.53" y="199.57" width="11.42" height="0.83" fill="rgba(255,127,14,0.36)" stroke="rgba(255,127,14,0.4)" stroke-width="1"/>
<g stroke="rgba(255,127,14,0.8)"><line x1="286.24" y1="199.29" x2="286.24" y2="199.84" stroke-width="1.3"/><line x1="282.94" y1="199.29" x2="289.54" y2="199.29" stroke-width="1.1" stroke-opacity="0.8"/><line x1="282.94" y1="199.84" x2="289.54" y2="199.84" stroke-width="1.1"/></g>
<rect x="294.8" y="199.29" width="11.42" height="1.11" fill="rgba(44,160,44,0.36)" stroke="rgba(44,160,44,0.4)" stroke-width="1"/>
<g stroke="rgba(44,160,44,0.8)"><line x1="300.51" y1="199.01" x2="300.51" y2="199.57" stroke-width="1.3"/><line x1="297.21" y1="199.01" x2="303.81" y2="199.01" stroke-width="1.1" stroke-opacity="0.8"/><line x1="297.21" y1="199.57" x2="303.81" y2="199.57" stroke-width="1.1"/></g>
<rect x="309.07" y="199.57" width="11.42" height="0.83" fill="rgba(214,39,40,0.36)" stroke="rgba(214,39,40,0.4)" stroke-width="1"/>
<g stroke="rgba(214,39,40,0.8)"><line x1="314.78" y1="199.29" x2="314.78" y2="199.84" stroke-width="1.3"/><line x1="311.48" y1="199.29" x2="318.08" y2="199.29" stroke-width="1.1" stroke-opacity="0.8"/><line x1="311.48" y1="199.84" x2="318.08" y2="199.84" stroke-width="1.1"/></g>
<rect x="263.55" y="131" width="59.65" height="69.4" fill="none" stroke="#000" stroke-width="0.75"/>
<line x1="261.15" y1="200.4" x2="263.55" y2="200.4" stroke="#000" stroke-width="0.9"/>
<line x1="261.15" y1="165.7" x2="263.55" y2="165.7" stroke="#000" stroke-width="0.9"/>
<line x1="261.15" y1="131" x2="263.55" y2="131" stroke="#000" stroke-width="0.9"/>
<text x="293.37" y="216.5" text-anchor="middle" font-family="Liberation Serif" font-size="13" textLength="51.63" lengthAdjust="spacingAndGlyphs">Block 3-3</text>
<line x1="335.4" y1="165.5" x2="395.05" y2="165.5" stroke="#c2c2c2" stroke-width="1" stroke-dasharray="2.3,1.05"/>
<rect x="338.11" y="189.02" width="11.42" height="11.38" fill="rgba(31,119,180,0.36)" stroke="rgba(31,119,180,0.4)" stroke-width="1"/>
<g stroke="rgba(31,119,180,0.8)"><line x1="343.82" y1="188.46" x2="343.82" y2="189.57" stroke-width="1.3"/><line x1="340.52" y1="188.46" x2="347.12" y2="188.46" stroke-width="1.1" stroke-opacity="0.8"/><line x1="340.52" y1="189.57" x2="347.12" y2="189.57" stroke-width="1.1"/></g>
<rect x="352.38" y="199.36" width="11.42" height="1.04" fill="rgba(255,127,14,0.36)" stroke="rgba(255,127,14,0.4)" stroke-width="1"/>
<g stroke="rgba(255,127,14,0.8)"><line x1="358.09" y1="199.01" x2="358.09" y2="199.71" stroke-width="1.3"/><line x1="354.79" y1="199.01" x2="361.39" y2="199.01" stroke-width="1.1" stroke-opacity="0.8"/><line x1="354.79" y1="199.71" x2="361.39" y2="199.71" stroke-width="1.1"/></g>
<rect x="366.65" y="199.01" width="11.42" height="1.39" fill="rgba(44,160,44,0.36)" stroke="rgba(44,160,44,0.4)" stroke-width="1"/>
<g stroke="rgba(44,160,44,0.8)"><line x1="372.36" y1="198.66" x2="372.36" y2="199.36" stroke-width="1.3"/><line x1="369.06" y1="198.66" x2="375.66" y2="198.66" stroke-width="1.1" stroke-opacity="0.8"/><line x1="369.06" y1="199.36" x2="375.66" y2="199.36" stroke-width="1.1"/></g>
<rect x="380.92" y="199.36" width="11.42" height="1.04" fill="rgba(214,39,40,0.36)" stroke="rgba(214,39,40,0.4)" stroke-width="1"/>
<g stroke="rgba(214,39,40,0.8)"><line x1="386.63" y1="199.01" x2="386.63" y2="199.71" stroke-width="1.3"/><line x1="383.33" y1="199.01" x2="389.93" y2="199.01" stroke-width="1.1" stroke-opacity="0.8"/><line x1="383.33" y1="199.71" x2="389.93" y2="199.71" stroke-width="1.1"/></g>
<rect x="335.4" y="131" width="59.65" height="69.4" fill="none" stroke="#000" stroke-width="0.75"/>
<line x1="333" y1="200.4" x2="335.4" y2="200.4" stroke="#000" stroke-width="0.9"/>
<line x1="333" y1="165.7" x2="335.4" y2="165.7" stroke="#000" stroke-width="0.9"/>
<line x1="333" y1="131" x2="335.4" y2="131" stroke="#000" stroke-width="0.9"/>
<text x="365.22" y="216.5" text-anchor="middle" font-family="Liberation Serif" font-size="13" textLength="51.63" lengthAdjust="spacingAndGlyphs">Block 3-4</text>
<line x1="407.25" y1="165.5" x2="466.9" y2="165.5" stroke="#c2c2c2" stroke-width="1" stroke-dasharray="2.3,1.05"/>
<rect x="409.96" y="187.01" width="11.42" height="13.39" fill="rgba(31,119,180,0.36)" stroke="rgba(31,119,180,0.4)" stroke-width="1"/>
<g stroke="rgba(31,119,180,0.8)"><line x1="415.67" y1="186.45" x2="415.67" y2="187.56" stroke-width="1.3"/><line x1="412.37" y1="186.45" x2="418.97" y2="186.45" stroke-width="1.1" stroke-opacity="0.8"/><line x1="412.37" y1="187.56" x2="418.97" y2="187.56" stroke-width="1.1"/></g>
<rect x="424.23" y="199.36" width="11.42" height="1.04" fill="rgba(255,127,14,0.36)" stroke="rgba(255,127,14,0.4)" stroke-width="1"/>
<g stroke="rgba(255,127,14,0.8)"><line x1="429.94" y1="198.94" x2="429.94" y2="199.78" stroke-width="1.3"/><line x1="426.64" y1="198.94" x2="433.24" y2="198.94" stroke-width="1.1" stroke-opacity="0.8"/><line x1="426.64" y1="199.78" x2="433.24" y2="199.78" stroke-width="1.1"/></g>
<rect x="438.5" y="198.66" width="11.42" height="1.74" fill="rgba(44,160,44,0.36)" stroke="rgba(44,160,44,0.4)" stroke-width="1"/>
<g stroke="rgba(44,160,44,0.8)"><line x1="444.21" y1="198.25" x2="444.21" y2="199.08" stroke-width="1.3"/><line x1="440.91" y1="198.25" x2="447.51" y2="198.25" stroke-width="1.1" stroke-opacity="0.8"/><line x1="440.91" y1="199.08" x2="447.51" y2="199.08" stroke-width="1.1"/></g>
<rect x="452.77" y="199.15" width="11.42" height="1.25" fill="rgba(214,39,40,0.36)" stroke="rgba(214,39,40,0.4)" stroke-width="1"/>
<g stroke="rgba(214,39,40,0.8)"><line x1="458.48" y1="198.73" x2="458.48" y2="199.57" stroke-width="1.3"/><line x1="455.18" y1="198.73" x2="461.78" y2="198.73" stroke-width="1.1" stroke-opacity="0.8"/><line x1="455.18" y1="199.57" x2="461.78" y2="199.57" stroke-width="1.1"/></g>
<rect x="407.25" y="131" width="59.65" height="69.4" fill="none" stroke="#000" stroke-width="0.75"/>
<line x1="404.85" y1="200.4" x2="407.25" y2="200.4" stroke="#000" stroke-width="0.9"/>
<line x1="404.85" y1="165.7" x2="407.25" y2="165.7" stroke="#000" stroke-width="0.9"/>
<line x1="404.85" y1="131" x2="407.25" y2="131" stroke="#000" stroke-width="0.9"/>
<text x="437.07" y="216.5" text-anchor="middle" font-family="Liberation Serif" font-size="13" textLength="51.63" lengthAdjust="spacingAndGlyphs">Block 3-5</text>
<line x1="479.1" y1="165.5" x2="538.75" y2="165.5" stroke="#c2c2c2" stroke-width="1" stroke-dasharray="2.3,1.05"/>
<rect x="481.81" y="184.99" width="11.42" height="15.41" fill="rgba(31,119,180,0.36)" stroke="rgba(31,119,180,0.4)" stroke-width="1"/>
<g stroke="rgba(31,119,180,0.8)"><line x1="487.52" y1="184.44" x2="487.52" y2="185.55" stroke-width="1.3"/><line x1="484.22" y1="184.44" x2="490.82" y2="184.44" stroke-width="1.1" stroke-opacity="0.8"/><line x1="484.22" y1="185.55" x2="490.82" y2="185.55" stroke-width="1.1"/></g>
<rect x="496.08" y="199.15" width="11.42" height="1.25" fill="rgba(255,127,14,0.36)" stroke="rgba(255,127,14,0.4)" stroke-width="1"/>
<g stroke="rgba(255,127,14,0.8)"><line x1="501.79" y1="198.73" x2="501.79" y2="199.57" stroke-width="1.3"/><line x1="498.49" y1="198.73" x2="505.09" y2="198.73" stroke-width="1.1" stroke-opacity="0.8"/><line x1="498.49" y1="199.57" x2="505.09" y2="199.57" stroke-width="1.1"/></g>
<rect x="510.35" y="198.32" width="11.42" height="2.08" fill="rgba(44,160,44,0.36)" stroke="rgba(44,160,44,0.4)" stroke-width="1"/>
<g stroke="rgba(44,160,44,0.8)"><line x1="516.06" y1="197.9" x2="516.06" y2="198.73" stroke-width="1.3"/><line x1="512.76" y1="197.9" x2="519.36" y2="197.9" stroke-width="1.1" stroke-opacity="0.8"/><line x1="512.76" y1="198.73" x2="519.36" y2="198.73" stroke-width="1.1"/></g>
<rect x="524.62" y="199.01" width="11.42" height="1.39" fill="rgba(214,39,40,0.36)" stroke="rgba(214,39,40,0.4)" stroke-width="1"/>
<g stroke="rgba(214,39,40,0.8)"><line x1="530.33" y1="198.6" x2="530.33" y2="199.43" stroke-width="1.3"/><line x1="527.03" y1="198.6" x2="533.63" y2="198.6" stroke-width="1.1" stroke-opacity="0.8"/><line x1="527.03" y1="199.43" x2="533.63" y2="199.43" stroke-width="1.1"/></g>
<rect x="479.1" y="131" width="59.65" height="69.4" fill="none" stroke="#000" stroke-width="0.75"/>
<line x1="476.7" y1="200.4" x2="479.1" y2="200.4" stroke="#000" stroke-width="0.9"/>
<line x1="476.7" y1="165.7" x2="479.1" y2="165.7" stroke="#000" stroke-width="0.9"/>
<line x1="476.7" y1="131" x2="479.1" y2="131" stroke="#000" stroke-width="0.9"/>
<text x="508.92" y="216.5" text-anchor="middle" font-family="Liberation Serif" font-size="13" textLength="51.63" lengthAdjust="spacingAndGlyphs">Block 3-6</text>
<line x1="550.95" y1="165.5" x2="610.6" y2="165.5" stroke="#c2c2c2" stroke-width="1" stroke-dasharray="2.3,1.05"/>
<rect x="553.66" y="183.4" width="11.42" height="17" fill="rgba(31,119,180,0.36)" stroke="rgba(31,119,180,0.4)" stroke-width="1"/>
<g stroke="rgba(31,119,180,0.8)"><line x1="559.37" y1="182.36" x2="559.37" y2="184.44" stroke-width="1.3"/><line x1="556.07" y1="182.36" x2="562.67" y2="182.36" stroke-width="1.1" stroke-opacity="0.8"/><line x1="556.07" y1="184.44" x2="562.67" y2="184.44" stroke-width="1.1"/></g>
<rect x="567.93" y="198.32" width="11.42" height="2.08" fill="rgba(255,127,14,0.36)" stroke="rgba(255,127,14,0.4)" stroke-width="1"/>
<g stroke="rgba(255,127,14,0.8)"><line x1="573.64" y1="197.62" x2="573.64" y2="199.01" stroke-width="1.3"/><line x1="570.34" y1="197.62" x2="576.94" y2="197.62" stroke-width="1.1" stroke-opacity="0.8"/><line x1="570.34" y1="199.01" x2="576.94" y2="199.01" stroke-width="1.1"/></g>
<rect x="582.2" y="196.72" width="11.42" height="3.68" fill="rgba(44,160,44,0.36)" stroke="rgba(44,160,44,0.4)" stroke-width="1"/>
<g stroke="rgba(44,160,44,0.8)"><line x1="587.91" y1="195.68" x2="587.91" y2="197.76" stroke-width="1.3"/><line x1="584.61" y1="195.68" x2="591.21" y2="195.68" stroke-width="1.1" stroke-opacity="0.8"/><line x1="584.61" y1="197.76" x2="591.21" y2="197.76" stroke-width="1.1"/></g>
<rect x="596.47" y="198.11" width="11.42" height="2.29" fill="rgba(214,39,40,0.36)" stroke="rgba(214,39,40,0.4)" stroke-width="1"/>
<g stroke="rgba(214,39,40,0.8)"><line x1="602.18" y1="197.42" x2="602.18" y2="198.8" stroke-width="1.3"/><line x1="598.88" y1="197.42" x2="605.48" y2="197.42" stroke-width="1.1" stroke-opacity="0.8"/><line x1="598.88" y1="198.8" x2="605.48" y2="198.8" stroke-width="1.1"/></g>
<rect x="550.95" y="131" width="59.65" height="69.4" fill="none" stroke="#000" stroke-width="0.75"/>
<line x1="548.55" y1="200.4" x2="550.95" y2="200.4" stroke="#000" stroke-width="0.9"/>
<line x1="548.55" y1="165.7" x2="550.95" y2="165.7" stroke="#000" stroke-width="0.9"/>
<line x1="548.55" y1="131" x2="550.95" y2="131" stroke="#000" stroke-width="0.9"/>
<text x="580.77" y="216.5" text-anchor="middle" font-family="Liberation Serif" font-size="13" textLength="51.63" lengthAdjust="spacingAndGlyphs">Block 4-1</text>
<line x1="622.8" y1="165.5" x2="682.45" y2="165.5" stroke="#c2c2c2" stroke-width="1" stroke-dasharray="2.3,1.05"/>
<rect x="625.51" y="179.93" width="11.42" height="20.47" fill="rgba(31,119,180,0.36)" stroke="rgba(31,119,180,0.4)" stroke-width="1"/>
<g stroke="rgba(31,119,180,0.8)"><line x1="631.22" y1="178.54" x2="631.22" y2="181.31" stroke-width="1.3"/><line x1="627.92" y1="178.54" x2="634.52" y2="178.54" stroke-width="1.1" stroke-opacity="0.8"/><line x1="627.92" y1="181.31" x2="634.52" y2="181.31" stroke-width="1.1"/></g>
<rect x="639.78" y="197.07" width="11.42" height="3.33" fill="rgba(255,127,14,0.36)" stroke="rgba(255,127,14,0.4)" stroke-width="1"/>
<g stroke="rgba(255,127,14,0.8)"><line x1="645.49" y1="196.24" x2="645.49" y2="197.9" stroke-width="1.3"/><line x1="642.19" y1="196.24" x2="648.79" y2="196.24" stroke-width="1.1" stroke-opacity="0.8"/><line x1="642.19" y1="197.9" x2="648.79" y2="197.9" stroke-width="1.1"/></g>
<rect x="654.05" y="195.13" width="11.42" height="5.27" fill="rgba(44,160,44,0.36)" stroke="rgba(44,160,44,0.4)" stroke-width="1"/>
<g stroke="rgba(44,160,44,0.8)"><line x1="659.76" y1="194.29" x2="659.76" y2="195.96" stroke-width="1.3"/><line x1="656.46" y1="194.29" x2="663.06" y2="194.29" stroke-width="1.1" stroke-opacity="0.8"/><line x1="656.46" y1="195.96" x2="663.06" y2="195.96" stroke-width="1.1"/></g>
<rect x="668.32" y="196.79" width="11.42" height="3.61" fill="rgba(214,39,40,0.36)" stroke="rgba(214,39,40,0.4)" stroke-width="1"/>
<g stroke="rgba(214,39,40,0.8)"><line x1="674.03" y1="195.96" x2="674.03" y2="197.62" stroke-width="1.3"/><line x1="670.73" y1="195.96" x2="677.33" y2="195.96" stroke-width="1.1" stroke-opacity="0.8"/><line x1="670.73" y1="197.62" x2="677.33" y2="197.62" stroke-width="1.1"/></g>
<rect x="622.8" y="131" width="59.65" height="69.4" fill="none" stroke="#000" stroke-width="0.75"/>
<line x1="620.4" y1="200.4" x2="622.8" y2="200.4" stroke="#000" stroke-width="0.9"/>
<line x1="620.4" y1="165.7" x2="622.8" y2="165.7" stroke="#000" stroke-width="0.9"/>
<line x1="620.4" y1="131" x2="622.8" y2="131" stroke="#000" stroke-width="0.9"/>
<text x="652.62" y="216.5" text-anchor="middle" font-family="Liberation Serif" font-size="13" textLength="51.63" lengthAdjust="spacingAndGlyphs">Block 4-2</text>
<line x1="694.65" y1="165.5" x2="754.3" y2="165.5" stroke="#c2c2c2" stroke-width="1" stroke-dasharray="2.3,1.05"/>
<rect x="697.36" y="179.09" width="11.42" height="21.31" fill="rgba(31,119,180,0.36)" stroke="rgba(31,119,180,0.4)" stroke-width="1"/>
<g stroke="rgba(31,119,180,0.8)"><line x1="703.07" y1="177.01" x2="703.07" y2="181.18" stroke-width="1.3"/><line x1="699.77" y1="177.01" x2="706.37" y2="177.01" stroke-width="1.1" stroke-opacity="0.8"/><line x1="699.77" y1="181.18" x2="706.37" y2="181.18" stroke-width="1.1"/></g>
<rect x="711.63" y="195.82" width="11.42" height="4.58" fill="rgba(255,127,14,0.36)" stroke="rgba(255,127,14,0.4)" stroke-width="1"/>
<g stroke="rgba(255,127,14,0.8)"><line x1="717.34" y1="194.43" x2="717.34" y2="197.21" stroke-width="1.3"/><line x1="714.04" y1="194.43" x2="720.64" y2="194.43" stroke-width="1.1" stroke-opacity="0.8"/><line x1="714.04" y1="197.21" x2="720.64" y2="197.21" stroke-width="1.1"/></g>
<rect x="725.9" y="193.18" width="11.42" height="7.22" fill="rgba(44,160,44,0.36)" stroke="rgba(44,160,44,0.4)" stroke-width="1"/>
<g stroke="rgba(44,160,44,0.8)"><line x1="731.61" y1="191.79" x2="731.61" y2="194.57" stroke-width="1.3"/><line x1="728.31" y1="191.79" x2="734.91" y2="191.79" stroke-width="1.1" stroke-opacity="0.8"/><line x1="728.31" y1="194.57" x2="734.91" y2="194.57" stroke-width="1.1"/></g>
<rect x="740.17" y="195.82" width="11.42" height="4.58" fill="rgba(214,39,40,0.36)" stroke="rgba(214,39,40,0.4)" stroke-width="1"/>
<g stroke="rgba(214,39,40,0.8)"><line x1="745.88" y1="194.43" x2="745.88" y2="197.21" stroke-width="1.3"/><line x1="742.58" y1="194.43" x2="749.18" y2="194.43" stroke-width="1.1" stroke-opacity="0.8"/><line x1="742.58" y1="197.21" x2="749.18" y2="197.21" stroke-width="1.1"/></g>
<rect x="694.65" y="131" width="59.65" height="69.4" fill="none" stroke="#000" stroke-width="0.75"/>
<line x1="692.25" y1="200.4" x2="694.65" y2="200.4" stroke="#000" stroke-width="0.9"/>
<line x1="692.25" y1="165.7" x2="694.65" y2="165.7" stroke="#000" stroke-width="0.9"/>
<line x1="692.25" y1="131" x2="694.65" y2="131" stroke="#000" stroke-width="0.9"/>
<text x="724.48" y="216.5" text-anchor="middle" font-family="Liberation Serif" font-size="13" textLength="51.63" lengthAdjust="spacingAndGlyphs">Block 4-3</text>
<line x1="766.5" y1="165.5" x2="826.15" y2="165.5" stroke="#c2c2c2" stroke-width="1" stroke-dasharray="2.3,1.05"/>
<rect x="769.21" y="199.57" width="11.42" height="0.83" fill="rgba(31,119,180,0.36)" stroke="rgba(31,119,180,0.4)" stroke-width="1"/>
<g stroke="rgba(31,119,180,0.8)"><line x1="774.92" y1="199.22" x2="774.92" y2="199.91" stroke-width="1.3"/><line x1="771.62" y1="199.22" x2="778.22" y2="199.22" stroke-width="1.1" stroke-opacity="0.8"/><line x1="771.62" y1="199.91" x2="778.22" y2="199.91" stroke-width="1.1"/></g>
<rect x="783.48" y="199.84" width="11.42" height="0.56" fill="rgba(255,127,14,0.36)" stroke="rgba(255,127,14,0.4)" stroke-width="1"/>
<g stroke="rgba(255,127,14,0.8)"><line x1="789.19" y1="199.64" x2="789.19" y2="200.05" stroke-width="1.3"/><line x1="785.89" y1="199.64" x2="792.49" y2="199.64" stroke-width="1.1" stroke-opacity="0.8"/><line x1="785.89" y1="200.05" x2="792.49" y2="200.05" stroke-width="1.1"/></g>
<rect x="797.75" y="199.71" width="11.42" height="0.69" fill="rgba(44,160,44,0.36)" stroke="rgba(44,160,44,0.4)" stroke-width="1"/>
<g stroke="rgba(44,160,44,0.8)"><line x1="803.46" y1="199.5" x2="803.46" y2="199.91" stroke-width="1.3"/><line x1="800.16" y1="199.5" x2="806.76" y2="199.5" stroke-width="1.1" stroke-opacity="0.8"/><line x1="800.16" y1="199.91" x2="806.76" y2="199.91" stroke-width="1.1"/></g>
<rect x="812.02" y="199.84" width="11.42" height="0.56" fill="rgba(214,39,40,0.36)" stroke="rgba(214,39,40,0.4)" stroke-width="1"/>
<g stroke="rgba(214,39,40,0.8)"><line x1="817.73" y1="199.64" x2="817.73" y2="200.05" stroke-width="1.3"/><line x1="814.43" y1="199.64" x2="821.03" y2="199.64" stroke-width="1.1" stroke-opacity="0.8"/><line x1="814.43" y1="200.05" x2="821.03" y2="200.05" stroke-width="1.1"/></g>
<rect x="766.5" y="131" width="59.65" height="69.4" fill="none" stroke="#000" stroke-width="0.75"/>
<line x1="764.1" y1="200.4" x2="766.5" y2="200.4" stroke="#000" stroke-width="0.9"/>
<line x1="764.1" y1="165.7" x2="766.5" y2="165.7" stroke="#000" stroke-width="0.9"/>
<line x1="764.1" y1="131" x2="766.5" y2="131" stroke="#000" stroke-width="0.9"/>
<text x="796.33" y="216.5" text-anchor="middle" font-family="Liberation Serif" font-size="13" textLength="15.9" lengthAdjust="spacingAndGlyphs">FC</text>
<text x="43.6" y="203.7" text-anchor="end" font-family="Liberation Sans" font-size="10.3" stroke="#000" stroke-width="0.15">0.0</text>
<text x="43.6" y="169" text-anchor="end" font-family="Liberation Sans" font-size="10.3" stroke="#000" stroke-width="0.15">0.5</text>
<text x="43.6" y="134.3" text-anchor="end" font-family="Liberation Sans" font-size="10.3" stroke="#000" stroke-width="0.15">1.0</text>
<text transform="translate(12.9,218.6) rotate(-90)" font-family="Liberation Serif" font-size="13" stroke="#000" stroke-width="0.25"><tspan x="-0.3" y="0" font-style="italic" font-size="13.5">E</tspan><tspan x="7.4" y="3" font-style="italic" font-size="8.8">D</tspan><tspan x="15" y="0">[</tspan><tspan x="19.2" y="0">1</tspan><tspan x="39.6" y="0" font-size="14">cosine(</tspan><tspan x="82.2" y="0" font-weight="bold" font-style="italic" font-size="13.5">x</tspan><tspan x="89" y="2.6" font-style="italic" font-size="9.5">i</tspan><tspan x="92.6" y="0" font-size="13.5">)</tspan><tspan x="98" y="0" font-size="13.5">]</tspan></text>
<rect x="8.95" y="181.4" width="1.1" height="7.8" fill="#000"/>
<line x1="48" y1="277.5" x2="107.65" y2="277.5" stroke="#c2c2c2" stroke-width="1" stroke-dasharray="2.3,1.05"/>
<rect x="50.71" y="306.3" width="11.42" height="5.7" fill="rgba(31,119,180,0.36)" stroke="rgba(31,119,180,0.4)" stroke-width="1"/>
<g stroke="rgba(31,119,180,0.8)"><line x1="56.42" y1="305.61" x2="56.42" y2="307" stroke-width="1.3"/><line x1="53.12" y1="305.61" x2="59.72" y2="305.61" stroke-width="1.1" stroke-opacity="0.8"/><line x1="53.12" y1="307" x2="59.72" y2="307" stroke-width="1.1"/></g>
<rect x="64.98" y="311.79" width="11.42" height="0.21" fill="rgba(255,127,14,0.36)" stroke="rgba(255,127,14,0.4)" stroke-width="1"/>
<g stroke="rgba(255,127,14,0.8)"><line x1="70.69" y1="311.65" x2="70.69" y2="311.93" stroke-width="1.3"/><line x1="67.39" y1="311.65" x2="73.99" y2="311.65" stroke-width="1.1" stroke-opacity="0.8"/><line x1="67.39" y1="311.93" x2="73.99" y2="311.93" stroke-width="1.1"/></g>
<rect x="79.25" y="311.72" width="11.42" height="0.28" fill="rgba(44,160,44,0.36)" stroke="rgba(44,160,44,0.4)" stroke-width="1"/>
<g stroke="rgba(44,160,44,0.8)"><line x1="84.96" y1="311.58" x2="84.96" y2="311.86" stroke-width="1.3"/><line x1="81.66" y1="311.58" x2="88.26" y2="311.58" stroke-width="1.1" stroke-opacity="0.8"/><line x1="81.66" y1="311.86" x2="88.26" y2="311.86" stroke-width="1.1"/></g>
<rect x="93.52" y="311.79" width="11.42" height="0.21" fill="rgba(214,39,40,0.36)" stroke="rgba(214,39,40,0.4)" stroke-width="1"/>
<g stroke="rgba(214,39,40,0.8)"><line x1="99.23" y1="311.65" x2="99.23" y2="311.93" stroke-width="1.3"/><line x1="95.93" y1="311.65" x2="102.53" y2="311.65" stroke-width="1.1" stroke-opacity="0.8"/><line x1="95.93" y1="311.93" x2="102.53" y2="311.93" stroke-width="1.1"/></g>
<rect x="48" y="242.5" width="59.65" height="69.5" fill="none" stroke="#000" stroke-width="0.75"/>
<line x1="45.6" y1="312" x2="48" y2="312" stroke="#000" stroke-width="0.9"/>
<line x1="45.6" y1="277.25" x2="48" y2="277.25" stroke="#000" stroke-width="0.9"/>
<line x1="45.6" y1="242.5" x2="48" y2="242.5" stroke="#000" stroke-width="0.9"/>
<text x="77.83" y="327.8" text-anchor="middle" font-family="Liberation Serif" font-size="13" textLength="48.75" lengthAdjust="spacingAndGlyphs">Conv 1-2</text>
<line x1="119.85" y1="277.5" x2="179.5" y2="277.5" stroke="#c2c2c2" stroke-width="1" stroke-dasharray="2.3,1.05"/>
<rect x="122.56" y="291.85" width="11.42" height="20.15" fill="rgba(31,119,180,0.36)" stroke="rgba(31,119,180,0.4)" stroke-width="1"/>
<g stroke="rgba(31,119,180,0.8)"><line x1="128.27" y1="290.45" x2="128.27" y2="293.24" stroke-width="1.3"/><line x1="124.97" y1="290.45" x2="131.57" y2="290.45" stroke-width="1.1" stroke-opacity="0.8"/><line x1="124.97" y1="293.24" x2="131.57" y2="293.24" stroke-width="1.1"/></g>
<rect x="136.83" y="311.31" width="11.42" height="0.7" fill="rgba(255,127,14,0.36)" stroke="rgba(255,127,14,0.4)" stroke-width="1"/>
<g stroke="rgba(255,127,14,0.8)"><line x1="142.54" y1="310.96" x2="142.54" y2="311.65" stroke-width="1.3"/><line x1="139.24" y1="310.96" x2="145.84" y2="310.96" stroke-width="1.1" stroke-opacity="0.8"/><line x1="139.24" y1="311.65" x2="145.84" y2="311.65" stroke-width="1.1"/></g>
<rect x="151.1" y="310.96" width="11.42" height="1.04" fill="rgba(44,160,44,0.36)" stroke="rgba(44,160,44,0.4)" stroke-width="1"/>
<g stroke="rgba(44,160,44,0.8)"><line x1="156.81" y1="310.61" x2="156.81" y2="311.31" stroke-width="1.3"/><line x1="153.51" y1="310.61" x2="160.11" y2="310.61" stroke-width="1.1" stroke-opacity="0.8"/><line x1="153.51" y1="311.31" x2="160.11" y2="311.31" stroke-width="1.1"/></g>
<rect x="165.37" y="311.31" width="11.42" height="0.7" fill="rgba(214,39,40,0.36)" stroke="rgba(214,39,40,0.4)" stroke-width="1"/>
<g stroke="rgba(214,39,40,0.8)"><line x1="171.08" y1="310.96" x2="171.08" y2="311.65" stroke-width="1.3"/><line x1="167.78" y1="310.96" x2="174.38" y2="310.96" stroke-width="1.1" stroke-opacity="0.8"/><line x1="167.78" y1="311.65" x2="174.38" y2="311.65" stroke-width="1.1"/></g>
<rect x="119.85" y="242.5" width="59.65" height="69.5" fill="none" stroke="#000" stroke-width="0.75"/>
<line x1="117.45" y1="312" x2="119.85" y2="312" stroke="#000" stroke-width="0.9"/>
<line x1="117.45" y1="277.25" x2="119.85" y2="277.25" stroke="#000" stroke-width="0.9"/>
<line x1="117.45" y1="242.5" x2="119.85" y2="242.5" stroke="#000" stroke-width="0.9"/>
<text x="149.67" y="327.8" text-anchor="middle" font-family="Liberation Serif" font-size="13" textLength="48.75" lengthAdjust="spacingAndGlyphs">Conv 2-2</text>
<line x1="191.7" y1="277.5" x2="251.35" y2="277.5" stroke="#c2c2c2" stroke-width="1" stroke-dasharray="2.3,1.05"/>
<rect x="194.41" y="275.58" width="11.42" height="36.42" fill="rgba(31,119,180,0.36)" stroke="rgba(31,119,180,0.4)" stroke-width="1"/>
<g stroke="rgba(31,119,180,0.8)"><line x1="200.12" y1="273.5" x2="200.12" y2="277.67" stroke-width="1.3"/><line x1="196.82" y1="273.5" x2="203.42" y2="273.5" stroke-width="1.1" stroke-opacity="0.8"/><line x1="196.82" y1="277.67" x2="203.42" y2="277.67" stroke-width="1.1"/></g>
<rect x="208.68" y="308.59" width="11.42" height="3.41" fill="rgba(255,127,14,0.36)" stroke="rgba(255,127,14,0.4)" stroke-width="1"/>
<g stroke="rgba(255,127,14,0.8)"><line x1="214.39" y1="307.9" x2="214.39" y2="309.29" stroke-width="1.3"/><line x1="211.09" y1="307.9" x2="217.69" y2="307.9" stroke-width="1.1" stroke-opacity="0.8"/><line x1="211.09" y1="309.29" x2="217.69" y2="309.29" stroke-width="1.1"/></g>
<rect x="222.95" y="305.19" width="11.42" height="6.81" fill="rgba(44,160,44,0.36)" stroke="rgba(44,160,44,0.4)" stroke-width="1"/>
<g stroke="rgba(44,160,44,0.8)"><line x1="228.66" y1="304.49" x2="228.66" y2="305.88" stroke-width="1.3"/><line x1="225.36" y1="304.49" x2="231.96" y2="304.49" stroke-width="1.1" stroke-opacity="0.8"/><line x1="225.36" y1="305.88" x2="231.96" y2="305.88" stroke-width="1.1"/></g>
<rect x="237.22" y="308.59" width="11.42" height="3.41" fill="rgba(214,39,40,0.36)" stroke="rgba(214,39,40,0.4)" stroke-width="1"/>
<g stroke="rgba(214,39,40,0.8)"><line x1="242.93" y1="307.9" x2="242.93" y2="309.29" stroke-width="1.3"/><line x1="239.63" y1="307.9" x2="246.23" y2="307.9" stroke-width="1.1" stroke-opacity="0.8"/><line x1="239.63" y1="309.29" x2="246.23" y2="309.29" stroke-width="1.1"/></g>
<rect x="191.7" y="242.5" width="59.65" height="69.5" fill="none" stroke="#000" stroke-width="0.75"/>
<line x1="189.3" y1="312" x2="191.7" y2="312" stroke="#000" stroke-width="0.9"/>
<line x1="189.3" y1="277.25" x2="191.7" y2="277.25" stroke="#000" stroke-width="0.9"/>
<line x1="189.3" y1="242.5" x2="191.7" y2="242.5" stroke="#000" stroke-width="0.9"/>
<text x="221.52" y="327.8" text-anchor="middle" font-family="Liberation Serif" font-size="13" textLength="48.75" lengthAdjust="spacingAndGlyphs">Conv 3-2</text>
<line x1="263.55" y1="277.5" x2="323.2" y2="277.5" stroke="#c2c2c2" stroke-width="1" stroke-dasharray="2.3,1.05"/>
<rect x="266.26" y="271.69" width="11.42" height="40.31" fill="rgba(31,119,180,0.36)" stroke="rgba(31,119,180,0.4)" stroke-width="1"/>
<g stroke="rgba(31,119,180,0.8)"><line x1="271.97" y1="268.21" x2="271.97" y2="275.17" stroke-width="1.3"/><line x1="268.67" y1="268.21" x2="275.27" y2="268.21" stroke-width="1.1" stroke-opacity="0.8"/><line x1="268.67" y1="275.17" x2="275.27" y2="275.17" stroke-width="1.1"/></g>
<rect x="280.53" y="306.72" width="11.42" height="5.28" fill="rgba(255,127,14,0.36)" stroke="rgba(255,127,14,0.4)" stroke-width="1"/>
<g stroke="rgba(255,127,14,0.8)"><line x1="286.24" y1="305.19" x2="286.24" y2="308.25" stroke-width="1.3"/><line x1="282.94" y1="305.19" x2="289.54" y2="305.19" stroke-width="1.1" stroke-opacity="0.8"/><line x1="282.94" y1="308.25" x2="289.54" y2="308.25" stroke-width="1.1"/></g>
<rect x="294.8" y="302.2" width="11.42" height="9.8" fill="rgba(44,160,44,0.36)" stroke="rgba(44,160,44,0.4)" stroke-width="1"/>
<g stroke="rgba(44,160,44,0.8)"><line x1="300.51" y1="299.91" x2="300.51" y2="304.49" stroke-width="1.3"/><line x1="297.21" y1="299.91" x2="303.81" y2="299.91" stroke-width="1.1" stroke-opacity="0.8"/><line x1="297.21" y1="304.49" x2="303.81" y2="304.49" stroke-width="1.1"/></g>
<rect x="309.07" y="306.72" width="11.42" height="5.28" fill="rgba(214,39,40,0.36)" stroke="rgba(214,39,40,0.4)" stroke-width="1"/>
<g stroke="rgba(214,39,40,0.8)"><line x1="314.78" y1="305.19" x2="314.78" y2="308.25" stroke-width="1.3"/><line x1="311.48" y1="305.19" x2="318.08" y2="305.19" stroke-width="1.1" stroke-opacity="0.8"/><line x1="311.48" y1="308.25" x2="318.08" y2="308.25" stroke-width="1.1"/></g>
<rect x="263.55" y="242.5" width="59.65" height="69.5" fill="none" stroke="#000" stroke-width="0.75"/>
<line x1="261.15" y1="312" x2="263.55" y2="312" stroke="#000" stroke-width="0.9"/>
<line x1="261.15" y1="277.25" x2="263.55" y2="277.25" stroke="#000" stroke-width="0.9"/>
<line x1="261.15" y1="242.5" x2="263.55" y2="242.5" stroke="#000" stroke-width="0.9"/>
<text x="293.37" y="327.8" text-anchor="middle" font-family="Liberation Serif" font-size="13" textLength="48.75" lengthAdjust="spacingAndGlyphs">Conv 3-3</text>
<line x1="335.4" y1="277.5" x2="395.05" y2="277.5" stroke="#c2c2c2" stroke-width="1" stroke-dasharray="2.3,1.05"/>
<rect x="338.11" y="292.12" width="11.42" height="19.88" fill="rgba(31,119,180,0.36)" stroke="rgba(31,119,180,0.4)" stroke-width="1"/>
<g stroke="rgba(31,119,180,0.8)"><line x1="343.82" y1="288.65" x2="343.82" y2="295.6" stroke-width="1.3"/><line x1="340.52" y1="288.65" x2="347.12" y2="288.65" stroke-width="1.1" stroke-opacity="0.8"/><line x1="340.52" y1="295.6" x2="347.12" y2="295.6" stroke-width="1.1"/></g>
<rect x="352.38" y="308.32" width="11.42" height="3.68" fill="rgba(255,127,14,0.36)" stroke="rgba(255,127,14,0.4)" stroke-width="1"/>
<g stroke="rgba(255,127,14,0.8)"><line x1="358.09" y1="305.88" x2="358.09" y2="310.75" stroke-width="1.3"/><line x1="354.79" y1="305.88" x2="361.39" y2="305.88" stroke-width="1.1" stroke-opacity="0.8"/><line x1="354.79" y1="310.75" x2="361.39" y2="310.75" stroke-width="1.1"/></g>
<rect x="366.65" y="305.47" width="11.42" height="6.53" fill="rgba(44,160,44,0.36)" stroke="rgba(44,160,44,0.4)" stroke-width="1"/>
<g stroke="rgba(44,160,44,0.8)"><line x1="372.36" y1="302.34" x2="372.36" y2="308.59" stroke-width="1.3"/><line x1="369.06" y1="302.34" x2="375.66" y2="302.34" stroke-width="1.1" stroke-opacity="0.8"/><line x1="369.06" y1="308.59" x2="375.66" y2="308.59" stroke-width="1.1"/></g>
<rect x="380.92" y="308.32" width="11.42" height="3.68" fill="rgba(214,39,40,0.36)" stroke="rgba(214,39,40,0.4)" stroke-width="1"/>
<g stroke="rgba(214,39,40,0.8)"><line x1="386.63" y1="305.88" x2="386.63" y2="310.75" stroke-width="1.3"/><line x1="383.33" y1="305.88" x2="389.93" y2="305.88" stroke-width="1.1" stroke-opacity="0.8"/><line x1="383.33" y1="310.75" x2="389.93" y2="310.75" stroke-width="1.1"/></g>
<rect x="335.4" y="242.5" width="59.65" height="69.5" fill="none" stroke="#000" stroke-width="0.75"/>
<line x1="333" y1="312" x2="335.4" y2="312" stroke="#000" stroke-width="0.9"/>
<line x1="333" y1="277.25" x2="335.4" y2="277.25" stroke="#000" stroke-width="0.9"/>
<line x1="333" y1="242.5" x2="335.4" y2="242.5" stroke="#000" stroke-width="0.9"/>
<text x="365.22" y="327.8" text-anchor="middle" font-family="Liberation Serif" font-size="13" textLength="48.75" lengthAdjust="spacingAndGlyphs">Conv 4-2</text>
<line x1="407.25" y1="277.5" x2="466.9" y2="277.5" stroke="#c2c2c2" stroke-width="1" stroke-dasharray="2.3,1.05"/>
<rect x="409.96" y="290.45" width="11.42" height="21.54" fill="rgba(31,119,180,0.36)" stroke="rgba(31,119,180,0.4)" stroke-width="1"/>
<g stroke="rgba(31,119,180,0.8)"><line x1="415.67" y1="286.98" x2="415.67" y2="293.93" stroke-width="1.3"/><line x1="412.37" y1="286.98" x2="418.97" y2="286.98" stroke-width="1.1" stroke-opacity="0.8"/><line x1="412.37" y1="293.93" x2="418.97" y2="293.93" stroke-width="1.1"/></g>
<rect x="424.23" y="309.71" width="11.42" height="2.29" fill="rgba(255,127,14,0.36)" stroke="rgba(255,127,14,0.4)" stroke-width="1"/>
<g stroke="rgba(255,127,14,0.8)"><line x1="429.94" y1="307.62" x2="429.94" y2="311.79" stroke-width="1.3"/><line x1="426.64" y1="307.62" x2="433.24" y2="307.62" stroke-width="1.1" stroke-opacity="0.8"/><line x1="426.64" y1="311.79" x2="433.24" y2="311.79" stroke-width="1.1"/></g>
<rect x="438.5" y="307.62" width="11.42" height="4.38" fill="rgba(44,160,44,0.36)" stroke="rgba(44,160,44,0.4)" stroke-width="1"/>
<g stroke="rgba(44,160,44,0.8)"><line x1="444.21" y1="304.49" x2="444.21" y2="310.75" stroke-width="1.3"/><line x1="440.91" y1="304.49" x2="447.51" y2="304.49" stroke-width="1.1" stroke-opacity="0.8"/><line x1="440.91" y1="310.75" x2="447.51" y2="310.75" stroke-width="1.1"/></g>
<rect x="452.77" y="309.71" width="11.42" height="2.29" fill="rgba(214,39,40,0.36)" stroke="rgba(214,39,40,0.4)" stroke-width="1"/>
<g stroke="rgba(214,39,40,0.8)"><line x1="458.48" y1="307.62" x2="458.48" y2="311.79" stroke-width="1.3"/><line x1="455.18" y1="307.62" x2="461.78" y2="307.62" stroke-width="1.1" stroke-opacity="0.8"/><line x1="455.18" y1="311.79" x2="461.78" y2="311.79" stroke-width="1.1"/></g>
<rect x="407.25" y="242.5" width="59.65" height="69.5" fill="none" stroke="#000" stroke-width="0.75"/>
<line x1="404.85" y1="312" x2="407.25" y2="312" stroke="#000" stroke-width="0.9"/>
<line x1="404.85" y1="277.25" x2="407.25" y2="277.25" stroke="#000" stroke-width="0.9"/>
<line x1="404.85" y1="242.5" x2="407.25" y2="242.5" stroke="#000" stroke-width="0.9"/>
<text x="437.07" y="327.8" text-anchor="middle" font-family="Liberation Serif" font-size="13" textLength="48.75" lengthAdjust="spacingAndGlyphs">Conv 4-3</text>
<line x1="479.1" y1="277.5" x2="538.75" y2="277.5" stroke="#c2c2c2" stroke-width="1" stroke-dasharray="2.3,1.05"/>
<rect x="481.81" y="303.87" width="11.42" height="8.13" fill="rgba(31,119,180,0.36)" stroke="rgba(31,119,180,0.4)" stroke-width="1"/>
<g stroke="rgba(31,119,180,0.8)"><line x1="487.52" y1="299.7" x2="487.52" y2="308.04" stroke-width="1.3"/><line x1="484.22" y1="299.7" x2="490.82" y2="299.7" stroke-width="1.1" stroke-opacity="0.8"/><line x1="484.22" y1="308.04" x2="490.82" y2="308.04" stroke-width="1.1"/></g>
<rect x="496.08" y="311.31" width="11.42" height="0.7" fill="rgba(255,127,14,0.36)" stroke="rgba(255,127,14,0.4)" stroke-width="1"/>
<g stroke="rgba(255,127,14,0.8)"><line x1="501.79" y1="308.87" x2="501.79" y2="312" stroke-width="1.3"/><line x1="498.49" y1="308.87" x2="505.09" y2="308.87" stroke-width="1.1" stroke-opacity="0.8"/></g>
<rect x="510.35" y="310.19" width="11.42" height="1.81" fill="rgba(44,160,44,0.36)" stroke="rgba(44,160,44,0.4)" stroke-width="1"/>
<g stroke="rgba(44,160,44,0.8)"><line x1="516.06" y1="306.72" x2="516.06" y2="312" stroke-width="1.3"/><line x1="512.76" y1="306.72" x2="519.36" y2="306.72" stroke-width="1.1" stroke-opacity="0.8"/></g>
<rect x="524.62" y="311.31" width="11.42" height="0.7" fill="rgba(214,39,40,0.36)" stroke="rgba(214,39,40,0.4)" stroke-width="1"/>
<g stroke="rgba(214,39,40,0.8)"><line x1="530.33" y1="308.87" x2="530.33" y2="312" stroke-width="1.3"/><line x1="527.03" y1="308.87" x2="533.63" y2="308.87" stroke-width="1.1" stroke-opacity="0.8"/></g>
<rect x="479.1" y="242.5" width="59.65" height="69.5" fill="none" stroke="#000" stroke-width="0.75"/>
<line x1="476.7" y1="312" x2="479.1" y2="312" stroke="#000" stroke-width="0.9"/>
<line x1="476.7" y1="277.25" x2="479.1" y2="277.25" stroke="#000" stroke-width="0.9"/>
<line x1="476.7" y1="242.5" x2="479.1" y2="242.5" stroke="#000" stroke-width="0.9"/>
<text x="508.92" y="327.8" text-anchor="middle" font-family="Liberation Serif" font-size="13" textLength="48.75" lengthAdjust="spacingAndGlyphs">Conv 5-2</text>
<line x1="550.95" y1="277.5" x2="610.6" y2="277.5" stroke="#c2c2c2" stroke-width="1" stroke-dasharray="2.3,1.05"/>
<rect x="553.66" y="296.29" width="11.42" height="15.71" fill="rgba(31,119,180,0.36)" stroke="rgba(31,119,180,0.4)" stroke-width="1"/>
<g stroke="rgba(31,119,180,0.8)"><line x1="559.37" y1="290.04" x2="559.37" y2="302.55" stroke-width="1.3"/><line x1="556.07" y1="290.04" x2="562.67" y2="290.04" stroke-width="1.1" stroke-opacity="0.8"/><line x1="556.07" y1="302.55" x2="562.67" y2="302.55" stroke-width="1.1"/></g>
<rect x="567.93" y="310.61" width="11.42" height="1.39" fill="rgba(255,127,14,0.36)" stroke="rgba(255,127,14,0.4)" stroke-width="1"/>
<g stroke="rgba(255,127,14,0.8)"><line x1="573.64" y1="307.13" x2="573.64" y2="312" stroke-width="1.3"/><line x1="570.34" y1="307.13" x2="576.94" y2="307.13" stroke-width="1.1" stroke-opacity="0.8"/></g>
<rect x="582.2" y="309.57" width="11.42" height="2.43" fill="rgba(44,160,44,0.36)" stroke="rgba(44,160,44,0.4)" stroke-width="1"/>
<g stroke="rgba(44,160,44,0.8)"><line x1="587.91" y1="304.01" x2="587.91" y2="312" stroke-width="1.3"/><line x1="584.61" y1="304.01" x2="591.21" y2="304.01" stroke-width="1.1" stroke-opacity="0.8"/></g>
<rect x="596.47" y="310.96" width="11.42" height="1.04" fill="rgba(214,39,40,0.36)" stroke="rgba(214,39,40,0.4)" stroke-width="1"/>
<g stroke="rgba(214,39,40,0.8)"><line x1="602.18" y1="307.48" x2="602.18" y2="312" stroke-width="1.3"/><line x1="598.88" y1="307.48" x2="605.48" y2="307.48" stroke-width="1.1" stroke-opacity="0.8"/></g>
<rect x="550.95" y="242.5" width="59.65" height="69.5" fill="none" stroke="#000" stroke-width="0.75"/>
<line x1="548.55" y1="312" x2="550.95" y2="312" stroke="#000" stroke-width="0.9"/>
<line x1="548.55" y1="277.25" x2="550.95" y2="277.25" stroke="#000" stroke-width="0.9"/>
<line x1="548.55" y1="242.5" x2="550.95" y2="242.5" stroke="#000" stroke-width="0.9"/>
<text x="580.77" y="327.8" text-anchor="middle" font-family="Liberation Serif" font-size="13" textLength="48.75" lengthAdjust="spacingAndGlyphs">Conv 5-3</text>
<line x1="622.8" y1="277.5" x2="682.45" y2="277.5" stroke="#c2c2c2" stroke-width="1" stroke-dasharray="2.3,1.05"/>
<rect x="625.51" y="263.77" width="11.42" height="48.23" fill="rgba(31,119,180,0.36)" stroke="rgba(31,119,180,0.4)" stroke-width="1"/>
<g stroke="rgba(31,119,180,0.8)"><line x1="631.22" y1="260.64" x2="631.22" y2="266.89" stroke-width="1.3"/><line x1="627.92" y1="260.64" x2="634.52" y2="260.64" stroke-width="1.1" stroke-opacity="0.8"/><line x1="627.92" y1="266.89" x2="634.52" y2="266.89" stroke-width="1.1"/></g>
<rect x="639.78" y="311.31" width="11.42" height="0.7" fill="rgba(255,127,14,0.36)" stroke="rgba(255,127,14,0.4)" stroke-width="1"/>
<g stroke="rgba(255,127,14,0.8)"><line x1="645.49" y1="306.79" x2="645.49" y2="312" stroke-width="1.3"/><line x1="642.19" y1="306.79" x2="648.79" y2="306.79" stroke-width="1.1" stroke-opacity="0.8"/></g>
<rect x="654.05" y="309.78" width="11.42" height="2.22" fill="rgba(44,160,44,0.36)" stroke="rgba(44,160,44,0.4)" stroke-width="1"/>
<g stroke="rgba(44,160,44,0.8)"><line x1="659.76" y1="303.52" x2="659.76" y2="312" stroke-width="1.3"/><line x1="656.46" y1="303.52" x2="663.06" y2="303.52" stroke-width="1.1" stroke-opacity="0.8"/></g>
<rect x="668.32" y="311.31" width="11.42" height="0.7" fill="rgba(214,39,40,0.36)" stroke="rgba(214,39,40,0.4)" stroke-width="1"/>
<g stroke="rgba(214,39,40,0.8)"><line x1="674.03" y1="306.79" x2="674.03" y2="312" stroke-width="1.3"/><line x1="670.73" y1="306.79" x2="677.33" y2="306.79" stroke-width="1.1" stroke-opacity="0.8"/></g>
<rect x="622.8" y="242.5" width="59.65" height="69.5" fill="none" stroke="#000" stroke-width="0.75"/>
<line x1="620.4" y1="312" x2="622.8" y2="312" stroke="#000" stroke-width="0.9"/>
<line x1="620.4" y1="277.25" x2="622.8" y2="277.25" stroke="#000" stroke-width="0.9"/>
<line x1="620.4" y1="242.5" x2="622.8" y2="242.5" stroke="#000" stroke-width="0.9"/>
<text x="652.62" y="327.8" text-anchor="middle" font-family="Liberation Serif" font-size="13" textLength="25.65" lengthAdjust="spacingAndGlyphs">FC 1</text>
<line x1="694.65" y1="277.5" x2="754.3" y2="277.5" stroke="#c2c2c2" stroke-width="1" stroke-dasharray="2.3,1.05"/>
<rect x="697.36" y="262.79" width="11.42" height="49.21" fill="rgba(31,119,180,0.36)" stroke="rgba(31,119,180,0.4)" stroke-width="1"/>
<g stroke="rgba(31,119,180,0.8)"><line x1="703.07" y1="258.62" x2="703.07" y2="266.96" stroke-width="1.3"/><line x1="699.77" y1="258.62" x2="706.37" y2="258.62" stroke-width="1.1" stroke-opacity="0.8"/><line x1="699.77" y1="266.96" x2="706.37" y2="266.96" stroke-width="1.1"/></g>
<rect x="711.63" y="310.96" width="11.42" height="1.04" fill="rgba(255,127,14,0.36)" stroke="rgba(255,127,14,0.4)" stroke-width="1"/>
<g stroke="rgba(255,127,14,0.8)"><line x1="717.34" y1="306.09" x2="717.34" y2="312" stroke-width="1.3"/><line x1="714.04" y1="306.09" x2="720.64" y2="306.09" stroke-width="1.1" stroke-opacity="0.8"/></g>
<rect x="725.9" y="308.66" width="11.42" height="3.34" fill="rgba(44,160,44,0.36)" stroke="rgba(44,160,44,0.4)" stroke-width="1"/>
<g stroke="rgba(44,160,44,0.8)"><line x1="731.61" y1="301.71" x2="731.61" y2="312" stroke-width="1.3"/><line x1="728.31" y1="301.71" x2="734.91" y2="301.71" stroke-width="1.1" stroke-opacity="0.8"/></g>
<rect x="740.17" y="310.26" width="11.42" height="1.74" fill="rgba(214,39,40,0.36)" stroke="rgba(214,39,40,0.4)" stroke-width="1"/>
<g stroke="rgba(214,39,40,0.8)"><line x1="745.88" y1="306.09" x2="745.88" y2="312" stroke-width="1.3"/><line x1="742.58" y1="306.09" x2="749.18" y2="306.09" stroke-width="1.1" stroke-opacity="0.8"/></g>
<rect x="694.65" y="242.5" width="59.65" height="69.5" fill="none" stroke="#000" stroke-width="0.75"/>
<line x1="692.25" y1="312" x2="694.65" y2="312" stroke="#000" stroke-width="0.9"/>
<line x1="692.25" y1="277.25" x2="694.65" y2="277.25" stroke="#000" stroke-width="0.9"/>
<line x1="692.25" y1="242.5" x2="694.65" y2="242.5" stroke="#000" stroke-width="0.9"/>
<text x="724.48" y="327.8" text-anchor="middle" font-family="Liberation Serif" font-size="13" textLength="25.65" lengthAdjust="spacingAndGlyphs">FC 2</text>
<line x1="766.5" y1="277.5" x2="826.15" y2="277.5" stroke="#c2c2c2" stroke-width="1" stroke-dasharray="2.3,1.05"/>
<rect x="769.21" y="309.57" width="11.42" height="2.43" fill="rgba(31,119,180,0.36)" stroke="rgba(31,119,180,0.4)" stroke-width="1"/>
<g stroke="rgba(31,119,180,0.8)"><line x1="774.92" y1="303.31" x2="774.92" y2="312" stroke-width="1.3"/><line x1="771.62" y1="303.31" x2="778.22" y2="303.31" stroke-width="1.1" stroke-opacity="0.8"/></g>
<rect x="783.48" y="310.75" width="11.42" height="1.25" fill="rgba(255,127,14,0.36)" stroke="rgba(255,127,14,0.4)" stroke-width="1"/>
<g stroke="rgba(255,127,14,0.8)"><line x1="789.19" y1="307.27" x2="789.19" y2="312" stroke-width="1.3"/><line x1="785.89" y1="307.27" x2="792.49" y2="307.27" stroke-width="1.1" stroke-opacity="0.8"/></g>
<rect x="797.75" y="309.57" width="11.42" height="2.43" fill="rgba(44,160,44,0.36)" stroke="rgba(44,160,44,0.4)" stroke-width="1"/>
<g stroke="rgba(44,160,44,0.8)"><line x1="803.46" y1="304.36" x2="803.46" y2="312" stroke-width="1.3"/><line x1="800.16" y1="304.36" x2="806.76" y2="304.36" stroke-width="1.1" stroke-opacity="0.8"/></g>
<rect x="812.02" y="310.75" width="11.42" height="1.25" fill="rgba(214,39,40,0.36)" stroke="rgba(214,39,40,0.4)" stroke-width="1"/>
<g stroke="rgba(214,39,40,0.8)"><line x1="817.73" y1="307.27" x2="817.73" y2="312" stroke-width="1.3"/><line x1="814.43" y1="307.27" x2="821.03" y2="307.27" stroke-width="1.1" stroke-opacity="0.8"/></g>
<rect x="766.5" y="242.5" width="59.65" height="69.5" fill="none" stroke="#000" stroke-width="0.75"/>
<line x1="764.1" y1="312" x2="766.5" y2="312" stroke="#000" stroke-width="0.9"/>
<line x1="764.1" y1="277.25" x2="766.5" y2="277.25" stroke="#000" stroke-width="0.9"/>
<line x1="764.1" y1="242.5" x2="766.5" y2="242.5" stroke="#000" stroke-width="0.9"/>
<text x="796.33" y="327.8" text-anchor="middle" font-family="Liberation Serif" font-size="13" textLength="25.65" lengthAdjust="spacingAndGlyphs">FC 3</text>
<text x="43.6" y="315.3" text-anchor="end" font-family="Liberation Sans" font-size="10.3" stroke="#000" stroke-width="0.15">0.0</text>
<text x="43.6" y="280.55" text-anchor="end" font-family="Liberation Sans" font-size="10.3" stroke="#000" stroke-width="0.15">0.5</text>
<text x="43.6" y="245.8" text-anchor="end" font-family="Liberation Sans" font-size="10.3" stroke="#000" stroke-width="0.15">1.0</text>
<text transform="translate(12.9,330.15) rotate(-90)" font-family="Liberation Serif" font-size="13" stroke="#000" stroke-width="0.25"><tspan x="-0.3" y="0" font-style="italic" font-size="13.5">E</tspan><tspan x="7.4" y="3" font-style="italic" font-size="8.8">D</tspan><tspan x="15" y="0">[</tspan><tspan x="19.2" y="0">1</tspan><tspan x="39.6" y="0" font-size="14">cosine(</tspan><tspan x="82.2" y="0" font-weight="bold" font-style="italic" font-size="13.5">x</tspan><tspan x="89" y="2.6" font-style="italic" font-size="9.5">i</tspan><tspan x="92.6" y="0" font-size="13.5">)</tspan><tspan x="98" y="0" font-size="13.5">]</tspan></text>
<rect x="8.95" y="292.95" width="1.1" height="7.8" fill="#000"/>
<text x="189.9" y="11.8" text-anchor="middle" font-family="Liberation Serif" font-size="14.15">MLP on MNIST</text>
<text x="580.8" y="11.9" text-anchor="middle" font-family="Liberation Serif" font-size="14.15">ResNet20 on CIFAR10</text>
<text x="437.2" y="124.5" text-anchor="middle" font-family="Liberation Serif" font-size="14.15">ResNet50 on Tiny ImageNet</text>
<text x="438.6" y="234.9" text-anchor="middle" font-family="Liberation Serif" font-size="14.15">VGG16 on CIFAR10</text>
<line x1="329.45" y1="11.5" x2="329.45" y2="97.4" stroke="#666" stroke-width="0.8"/>
<rect x="145.4" y="337.7" width="517.8" height="22.2" rx="5.5" ry="5.5" fill="#fff" stroke="#d6d6d6" stroke-width="1"/>
<rect x="166.1" y="342.4" width="20.4" height="11.6" fill="rgba(31,119,180,0.5)" stroke="#1f77b4" stroke-width="1.6"/>
<text x="193.3" y="352.8" font-family="Liberation Serif" font-size="13.8" stroke="#000" stroke-width="0.2">1</text>
<rect x="205.2" y="348.3" width="8.6" height="1.1" fill="#000"/>
<text x="218.2" y="352.8" font-family="Liberation Serif" font-size="13.8" stroke="#000" stroke-width="0.2" textLength="37.3" lengthAdjust="spacingAndGlyphs">cosine</text>
<text x="256.2" y="356.1" font-family="Liberation Serif" font-style="italic" font-size="10" stroke="#000" stroke-width="0.2" textLength="14.3" lengthAdjust="spacingAndGlyphs">A,B</text>
<rect x="290.4" y="342.4" width="20.4" height="11.6" fill="rgba(255,127,14,0.5)" stroke="#ff7f0e" stroke-width="1.6"/>
<text x="317.9" y="352.8" font-family="Liberation Serif" font-size="13.8" stroke="#000" stroke-width="0.2">1</text>
<rect x="329.8" y="348.3" width="8.6" height="1.1" fill="#000"/>
<text x="342.8" y="352.8" font-family="Liberation Serif" font-size="13.8" stroke="#000" stroke-width="0.2" textLength="37.3" lengthAdjust="spacingAndGlyphs">cosine</text>
<text x="380.8" y="356.1" font-family="Liberation Serif" font-size="10" stroke="#000" stroke-width="0.25" textLength="20" lengthAdjust="spacingAndGlyphs">0.25</text>
<rect x="415.2" y="342.4" width="20.4" height="11.6" fill="rgba(44,160,44,0.5)" stroke="#2ca02c" stroke-width="1.6"/>
<text x="442.5" y="352.8" font-family="Liberation Serif" font-size="13.8" stroke="#000" stroke-width="0.2">1</text>
<rect x="454.4" y="348.3" width="8.6" height="1.1" fill="#000"/>
<text x="467.4" y="352.8" font-family="Liberation Serif" font-size="13.8" stroke="#000" stroke-width="0.2" textLength="37.3" lengthAdjust="spacingAndGlyphs">cosine</text>
<text x="505.4" y="356.1" font-family="Liberation Serif" font-size="10" stroke="#000" stroke-width="0.25" textLength="20" lengthAdjust="spacingAndGlyphs">0.50</text>
<rect x="539.5" y="342.4" width="20.4" height="11.6" fill="rgba(214,39,40,0.5)" stroke="#d62728" stroke-width="1.6"/>
<text x="567" y="352.8" font-family="Liberation Serif" font-size="13.8" stroke="#000" stroke-width="0.2">1</text>
<rect x="578.9" y="348.3" width="8.6" height="1.1" fill="#000"/>
<text x="591.9" y="352.8" font-family="Liberation Serif" font-size="13.8" stroke="#000" stroke-width="0.2" textLength="37.3" lengthAdjust="spacingAndGlyphs">cosine</text>
<text x="629.9" y="356.1" font-family="Liberation Serif" font-size="10" stroke="#000" stroke-width="0.25" textLength="20" lengthAdjust="spacingAndGlyphs">0.75</text>
</svg></body></html>
